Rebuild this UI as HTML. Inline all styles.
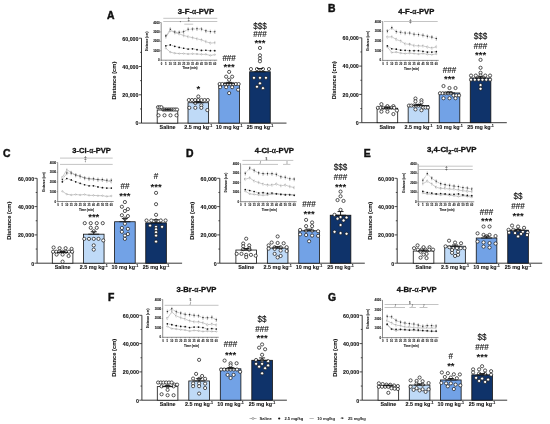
<!DOCTYPE html>
<html><head><meta charset="utf-8"><style>
html,body{margin:0;padding:0;background:#fff;}
svg{display:block;will-change:transform;}
text{font-family:"Liberation Sans", sans-serif;fill:#111;}
.s{stroke:#111;stroke-width:0.08;}
.h{stroke:#111;stroke-width:0.14;}
.T{stroke:#111;stroke-width:0.3;}
.L{stroke:#111;stroke-width:0.45;}
.it text{fill:#222;font-weight:bold;stroke:#222;stroke-width:0.08;}
</style></head><body>
<svg width="550" height="424" viewBox="0 0 550 424">
<rect width="550" height="424" fill="#fff"/>
<text x="107.10" y="18.95" font-size="10.4" font-weight="bold" text-anchor="start" class="L">A</text>
<text class="T" x="177.80" y="14.30" font-size="7.2" font-weight="bold" textLength="36.4" lengthAdjust="spacingAndGlyphs">3-F-<tspan font-weight="normal" font-family="Liberation Serif" font-size="7.4">α</tspan>-PVP</text>
<path d="M141.50 38.20V123.10H286.50" fill="none" stroke="#222" stroke-width="0.9"/>
<path d="M138.90 123.10H141.50" stroke="#222" stroke-width="0.8"/>
<text x="138.50" y="125.40" font-size="5.3" font-weight="bold" text-anchor="end" class="s">0</text>
<path d="M140.10 108.95H141.50" stroke="#222" stroke-width="0.8"/>
<path d="M138.90 94.80H141.50" stroke="#222" stroke-width="0.8"/>
<text x="138.50" y="97.10" font-size="5.3" font-weight="bold" text-anchor="end" class="s">20,000</text>
<path d="M140.10 80.65H141.50" stroke="#222" stroke-width="0.8"/>
<path d="M138.90 66.50H141.50" stroke="#222" stroke-width="0.8"/>
<text x="138.50" y="68.80" font-size="5.3" font-weight="bold" text-anchor="end" class="s">40,000</text>
<path d="M140.10 52.35H141.50" stroke="#222" stroke-width="0.8"/>
<path d="M138.90 38.20H141.50" stroke="#222" stroke-width="0.8"/>
<text x="138.50" y="40.50" font-size="5.3" font-weight="bold" text-anchor="end" class="s">60,000</text>
<text class="s" x="113.90" y="80.60" font-size="5.8" font-weight="bold" text-anchor="middle" transform="rotate(-90 113.90 80.60)" dy="2">Distance (cm)</text>
<rect x="157.20" y="110.00" width="20.6" height="13.10" fill="#ffffff" stroke="#111" stroke-width="0.8"/>
<text x="167.50" y="129.00" font-size="5.4" font-weight="bold" text-anchor="middle" class="s">Saline</text>
<circle cx="158.00" cy="107.25" r="1.6" fill="#fff" stroke="#111" stroke-width="0.7"/>
<circle cx="159.73" cy="107.25" r="1.6" fill="#fff" stroke="#111" stroke-width="0.7"/>
<circle cx="161.45" cy="107.25" r="1.6" fill="#fff" stroke="#111" stroke-width="0.7"/>
<circle cx="163.18" cy="109.52" r="1.6" fill="#fff" stroke="#111" stroke-width="0.7"/>
<circle cx="164.91" cy="109.52" r="1.6" fill="#fff" stroke="#111" stroke-width="0.7"/>
<circle cx="166.64" cy="109.52" r="1.6" fill="#fff" stroke="#111" stroke-width="0.7"/>
<circle cx="168.36" cy="109.52" r="1.6" fill="#fff" stroke="#111" stroke-width="0.7"/>
<circle cx="170.09" cy="109.52" r="1.6" fill="#fff" stroke="#111" stroke-width="0.7"/>
<circle cx="171.82" cy="109.52" r="1.6" fill="#fff" stroke="#111" stroke-width="0.7"/>
<circle cx="173.55" cy="109.52" r="1.6" fill="#fff" stroke="#111" stroke-width="0.7"/>
<circle cx="175.27" cy="109.52" r="1.6" fill="#fff" stroke="#111" stroke-width="0.7"/>
<circle cx="177.00" cy="109.52" r="1.6" fill="#fff" stroke="#111" stroke-width="0.7"/>
<circle cx="158.50" cy="115.32" r="1.6" fill="#fff" stroke="#111" stroke-width="0.7"/>
<circle cx="164.50" cy="115.32" r="1.6" fill="#fff" stroke="#111" stroke-width="0.7"/>
<circle cx="170.50" cy="115.32" r="1.6" fill="#fff" stroke="#111" stroke-width="0.7"/>
<circle cx="176.50" cy="115.32" r="1.6" fill="#fff" stroke="#111" stroke-width="0.7"/>
<path d="M162.00 110.00H173.00M167.50 110.00V109.25M164.50 109.25H170.50" stroke="#111" stroke-width="0.9"/>
<rect x="188.02" y="102.72" width="20.6" height="20.38" fill="#bfdaf7" stroke="#111" stroke-width="0.8"/>
<text x="198.32" y="129.00" font-size="5.4" font-weight="bold" text-anchor="middle" class="s">2.5 mg kg<tspan font-size="3.6" dy="-2">-1</tspan></text>
<circle cx="198.32" cy="96.50" r="1.6" fill="#fff" stroke="#111" stroke-width="0.7"/>
<circle cx="188.82" cy="100.04" r="1.6" fill="#fff" stroke="#111" stroke-width="0.7"/>
<circle cx="191.99" cy="100.04" r="1.6" fill="#fff" stroke="#111" stroke-width="0.7"/>
<circle cx="195.15" cy="100.04" r="1.6" fill="#fff" stroke="#111" stroke-width="0.7"/>
<circle cx="198.32" cy="100.04" r="1.6" fill="#fff" stroke="#111" stroke-width="0.7"/>
<circle cx="201.49" cy="100.04" r="1.6" fill="#fff" stroke="#111" stroke-width="0.7"/>
<circle cx="204.65" cy="100.04" r="1.6" fill="#fff" stroke="#111" stroke-width="0.7"/>
<circle cx="207.82" cy="100.04" r="1.6" fill="#fff" stroke="#111" stroke-width="0.7"/>
<circle cx="195.32" cy="103.01" r="1.6" fill="#fff" stroke="#111" stroke-width="0.7"/>
<circle cx="201.32" cy="105.41" r="1.6" fill="#fff" stroke="#111" stroke-width="0.7"/>
<circle cx="189.32" cy="107.82" r="1.6" fill="#fff" stroke="#111" stroke-width="0.7"/>
<circle cx="195.32" cy="107.82" r="1.6" fill="#fff" stroke="#111" stroke-width="0.7"/>
<circle cx="201.32" cy="107.82" r="1.6" fill="#fff" stroke="#111" stroke-width="0.7"/>
<circle cx="207.32" cy="110.08" r="1.6" fill="#fff" stroke="#111" stroke-width="0.7"/>
<path d="M192.82 102.72H203.82M198.32 102.72V101.60M195.32 101.60H201.32" stroke="#111" stroke-width="0.9"/>
<text x="198.32" y="91.90" font-size="9.5" font-weight="bold" text-anchor="middle" >*</text>
<rect x="218.84" y="83.62" width="20.6" height="39.48" fill="#72a2e6" stroke="#111" stroke-width="0.8"/>
<text x="229.14" y="129.00" font-size="5.4" font-weight="bold" text-anchor="middle" class="s">10 mg kg<tspan font-size="3.6" dy="-2">-1</tspan></text>
<circle cx="229.14" cy="71.88" r="1.6" fill="#fff" stroke="#111" stroke-width="0.7"/>
<circle cx="226.14" cy="76.69" r="1.6" fill="#fff" stroke="#111" stroke-width="0.7"/>
<circle cx="232.14" cy="76.69" r="1.6" fill="#fff" stroke="#111" stroke-width="0.7"/>
<circle cx="229.14" cy="79.80" r="1.6" fill="#fff" stroke="#111" stroke-width="0.7"/>
<circle cx="219.64" cy="84.05" r="1.6" fill="#fff" stroke="#111" stroke-width="0.7"/>
<circle cx="222.35" cy="84.05" r="1.6" fill="#fff" stroke="#111" stroke-width="0.7"/>
<circle cx="225.07" cy="84.05" r="1.6" fill="#fff" stroke="#111" stroke-width="0.7"/>
<circle cx="227.78" cy="84.05" r="1.6" fill="#fff" stroke="#111" stroke-width="0.7"/>
<circle cx="230.50" cy="84.05" r="1.6" fill="#fff" stroke="#111" stroke-width="0.7"/>
<circle cx="233.21" cy="84.05" r="1.6" fill="#fff" stroke="#111" stroke-width="0.7"/>
<circle cx="235.93" cy="84.05" r="1.6" fill="#fff" stroke="#111" stroke-width="0.7"/>
<circle cx="238.64" cy="84.05" r="1.6" fill="#fff" stroke="#111" stroke-width="0.7"/>
<circle cx="220.14" cy="87.16" r="1.6" fill="#fff" stroke="#111" stroke-width="0.7"/>
<circle cx="226.14" cy="87.16" r="1.6" fill="#fff" stroke="#111" stroke-width="0.7"/>
<circle cx="232.14" cy="87.16" r="1.6" fill="#fff" stroke="#111" stroke-width="0.7"/>
<circle cx="238.14" cy="89.71" r="1.6" fill="#fff" stroke="#111" stroke-width="0.7"/>
<circle cx="229.14" cy="93.10" r="1.6" fill="#fff" stroke="#111" stroke-width="0.7"/>
<path d="M223.64 83.62H234.64M229.14 83.62V82.39M226.14 82.39H232.14" stroke="#111" stroke-width="0.9"/>
<text class="h" x="222.39" y="60.80" font-size="9.6" font-weight="normal" textLength="13.50" lengthAdjust="spacingAndGlyphs">###</text>
<text x="229.14" y="69.60" font-size="9.5" font-weight="bold" text-anchor="middle" >***</text>
<rect x="249.66" y="71.74" width="20.6" height="51.36" fill="#0f336a" stroke="#111" stroke-width="0.8"/>
<text x="259.96" y="129.00" font-size="5.4" font-weight="bold" text-anchor="middle" class="s">25 mg kg<tspan font-size="3.6" dy="-2">-1</tspan></text>
<circle cx="259.96" cy="47.96" r="1.6" fill="#fff" stroke="#111" stroke-width="0.7"/>
<circle cx="259.96" cy="55.32" r="1.6" fill="#fff" stroke="#111" stroke-width="0.7"/>
<circle cx="259.96" cy="58.43" r="1.6" fill="#fff" stroke="#111" stroke-width="0.7"/>
<circle cx="259.96" cy="61.26" r="1.6" fill="#fff" stroke="#111" stroke-width="0.7"/>
<circle cx="250.96" cy="69.05" r="1.6" fill="#fff" stroke="#111" stroke-width="0.7"/>
<circle cx="256.96" cy="69.05" r="1.6" fill="#fff" stroke="#111" stroke-width="0.7"/>
<circle cx="262.96" cy="69.05" r="1.6" fill="#fff" stroke="#111" stroke-width="0.7"/>
<circle cx="268.96" cy="69.05" r="1.6" fill="#fff" stroke="#111" stroke-width="0.7"/>
<circle cx="253.96" cy="77.82" r="1.6" fill="#fff" stroke="#111" stroke-width="0.7"/>
<circle cx="259.96" cy="77.82" r="1.6" fill="#fff" stroke="#111" stroke-width="0.7"/>
<circle cx="265.96" cy="77.82" r="1.6" fill="#fff" stroke="#111" stroke-width="0.7"/>
<circle cx="259.96" cy="83.34" r="1.6" fill="#fff" stroke="#111" stroke-width="0.7"/>
<circle cx="256.96" cy="86.73" r="1.6" fill="#fff" stroke="#111" stroke-width="0.7"/>
<circle cx="262.96" cy="88.15" r="1.6" fill="#fff" stroke="#111" stroke-width="0.7"/>
<path d="M254.46 71.74H265.46M259.96 71.74V68.52M256.96 68.52H262.96" stroke="#111" stroke-width="0.9"/>
<text class="h" x="253.21" y="28.60" font-size="9.4" font-weight="normal" textLength="13.50" lengthAdjust="spacingAndGlyphs">$$$</text>
<text class="h" x="253.21" y="37.20" font-size="9.6" font-weight="normal" textLength="13.50" lengthAdjust="spacingAndGlyphs">###</text>
<text x="259.96" y="46.20" font-size="9.5" font-weight="bold" text-anchor="middle" >***</text>
<path d="M161.20 22.50V60.20H217.20" fill="none" stroke="#333" stroke-width="0.55"/>
<path d="M160.00 60.20H161.20M160.00 50.78H161.20M160.00 41.35H161.20M160.00 31.93H161.20M160.00 22.50H161.20M161.40 60.20V61.20M165.85 60.20V61.20M170.30 60.20V61.20M174.75 60.20V61.20M179.20 60.20V61.20M183.65 60.20V61.20M188.10 60.20V61.20M192.55 60.20V61.20M197.00 60.20V61.20M201.45 60.20V61.20M205.90 60.20V61.20M210.35 60.20V61.20M214.80 60.20V61.20" stroke="#333" stroke-width="0.4"/>
<g class="it">
<text x="159.70" y="61.20" font-size="2.9" text-anchor="end">0</text>
<text x="159.70" y="51.78" font-size="2.9" text-anchor="end">1000</text>
<text x="159.70" y="42.35" font-size="2.9" text-anchor="end">2000</text>
<text x="159.70" y="32.92" font-size="2.9" text-anchor="end">3000</text>
<text x="159.70" y="23.50" font-size="2.9" text-anchor="end">4000</text>
<text x="161.40" y="64.80" font-size="2.7" text-anchor="middle">0</text>
<text x="165.85" y="64.80" font-size="2.7" text-anchor="middle">5</text>
<text x="170.30" y="64.80" font-size="2.7" text-anchor="middle">10</text>
<text x="174.75" y="64.80" font-size="2.7" text-anchor="middle">15</text>
<text x="179.20" y="64.80" font-size="2.7" text-anchor="middle">20</text>
<text x="183.65" y="64.80" font-size="2.7" text-anchor="middle">25</text>
<text x="188.10" y="64.80" font-size="2.7" text-anchor="middle">30</text>
<text x="192.55" y="64.80" font-size="2.7" text-anchor="middle">35</text>
<text x="197.00" y="64.80" font-size="2.7" text-anchor="middle">40</text>
<text x="201.45" y="64.80" font-size="2.7" text-anchor="middle">45</text>
<text x="205.90" y="64.80" font-size="2.7" text-anchor="middle">50</text>
<text x="210.35" y="64.80" font-size="2.7" text-anchor="middle">55</text>
<text x="214.80" y="64.80" font-size="2.7" text-anchor="middle">60</text>
<text x="190.00" y="69.40" font-size="3" text-anchor="middle">Time (min)</text>
<text x="147.00" y="41.35" font-size="3" text-anchor="middle" transform="rotate(-90 147.00 41.35)" dy="1">Distance (cm)</text>
</g>
<path d="M163.30 18.30H217.30" stroke="#888" stroke-width="0.5"/>
<path d="M163.30 21.50H217.30" stroke="#888" stroke-width="0.5"/>
<path d="M184.30 24.20H193.20" stroke="#888" stroke-width="0.5"/>
<text x="188.70" y="20.60" font-size="4.5" font-weight="normal" text-anchor="middle" fill="#555">‡</text>
<text x="180.40" y="24.20" font-size="3" font-weight="normal" text-anchor="middle" fill="#555">*</text>
<path d="M165.85 34.43V37.64M165.25 34.43H166.45M165.25 37.64H166.45M170.30 27.78V30.98M169.70 27.78H170.90M169.70 30.98H170.90M174.75 30.55V33.75M174.15 30.55H175.35M174.15 33.75H175.35M179.20 30.89V34.09M178.60 30.89H179.80M178.60 34.09H179.80M183.65 30.23V33.43M183.05 30.23H184.25M183.05 33.43H184.25M188.10 27.78V30.98M187.50 27.78H188.70M187.50 30.98H188.70M192.55 27.56V30.77M191.95 27.56H193.15M191.95 30.77H193.15M197.00 27.23V30.44M196.40 27.23H197.60M196.40 30.44H197.60M201.45 27.56V30.77M200.85 27.56H202.05M200.85 30.77H202.05M205.90 29.45V32.65M205.30 29.45H206.50M205.30 32.65H206.50M210.35 30.00V33.21M209.75 30.00H210.95M209.75 33.21H210.95M214.80 30.23V33.43M214.20 30.23H215.40M214.20 33.43H215.40" stroke="#666" stroke-width="0.3" fill="none"/>
<path d="M165.85 35.79V38.43M165.35 35.79H166.35M165.35 38.43H166.35M170.30 29.19V31.83M169.80 29.19H170.80M169.80 31.83H170.80M174.75 31.39V34.03M174.25 31.39H175.25M174.25 34.03H175.25M179.20 32.49V35.13M178.70 32.49H179.70M178.70 35.13H179.70M183.65 34.19V36.83M183.15 34.19H184.15M183.15 36.83H184.15M188.10 35.32V37.96M187.60 35.32H188.60M187.60 37.96H188.60M192.55 36.38V39.02M192.05 36.38H193.05M192.05 39.02H193.05M197.00 37.49V40.12M196.50 37.49H197.50M196.50 40.12H197.50M201.45 38.62V41.26M200.95 38.62H201.95M200.95 41.26H201.95M205.90 40.27V42.91M205.40 40.27H206.40M205.40 42.91H206.40M210.35 41.92V44.55M209.85 41.92H210.85M209.85 44.55H210.85M214.80 41.35V43.99M214.30 41.35H215.30M214.30 43.99H215.30" stroke="#aaa" stroke-width="0.3" fill="none"/>
<polyline points="165.85,48.23 170.30,52.11 174.75,53.22 179.20,53.56 183.65,53.56 188.10,54.00 192.55,53.77 197.00,54.00 201.45,54.33 205.90,54.33 210.35,55.44 214.80,54.66" fill="none" stroke="#999" stroke-width="0.5"/>
<polyline points="165.85,37.11 170.30,30.51 174.75,32.71 179.20,33.81 183.65,35.51 188.10,36.64 192.55,37.70 197.00,38.81 201.45,39.94 205.90,41.59 210.35,43.23 214.80,42.67" fill="none" stroke="#aaa" stroke-width="0.6"/>
<polyline points="165.85,45.78 170.30,44.90 174.75,46.35 179.20,47.46 183.65,48.23 188.10,49.12 192.55,48.79 197.00,49.67 201.45,50.45 205.90,50.23 210.35,50.67 214.80,50.67" fill="none" stroke="#444" stroke-width="0.45" stroke-dasharray="0.8 0.8"/>
<polyline points="165.85,36.03 170.30,29.38 174.75,32.15 179.20,32.49 183.65,31.83 188.10,29.38 192.55,29.16 197.00,28.83 201.45,29.16 205.90,31.05 210.35,31.60 214.80,31.83" fill="none" stroke="#444" stroke-width="0.45" stroke-dasharray="0.8 0.8"/>
<circle cx="165.85" cy="48.23" r="0.7" fill="#fff" stroke="#777" stroke-width="0.35"/>
<circle cx="170.30" cy="52.11" r="0.7" fill="#fff" stroke="#777" stroke-width="0.35"/>
<circle cx="174.75" cy="53.22" r="0.7" fill="#fff" stroke="#777" stroke-width="0.35"/>
<circle cx="179.20" cy="53.56" r="0.7" fill="#fff" stroke="#777" stroke-width="0.35"/>
<circle cx="183.65" cy="53.56" r="0.7" fill="#fff" stroke="#777" stroke-width="0.35"/>
<circle cx="188.10" cy="54.00" r="0.7" fill="#fff" stroke="#777" stroke-width="0.35"/>
<circle cx="192.55" cy="53.77" r="0.7" fill="#fff" stroke="#777" stroke-width="0.35"/>
<circle cx="197.00" cy="54.00" r="0.7" fill="#fff" stroke="#777" stroke-width="0.35"/>
<circle cx="201.45" cy="54.33" r="0.7" fill="#fff" stroke="#777" stroke-width="0.35"/>
<circle cx="205.90" cy="54.33" r="0.7" fill="#fff" stroke="#777" stroke-width="0.35"/>
<circle cx="210.35" cy="55.44" r="0.7" fill="#fff" stroke="#777" stroke-width="0.35"/>
<circle cx="214.80" cy="54.66" r="0.7" fill="#fff" stroke="#777" stroke-width="0.35"/>
<rect x="165.25" y="36.51" width="1.2" height="1.2" fill="#fff" stroke="#aaa" stroke-width="0.3"/>
<rect x="169.70" y="29.91" width="1.2" height="1.2" fill="#fff" stroke="#aaa" stroke-width="0.3"/>
<rect x="174.15" y="32.11" width="1.2" height="1.2" fill="#fff" stroke="#aaa" stroke-width="0.3"/>
<rect x="178.60" y="33.21" width="1.2" height="1.2" fill="#fff" stroke="#aaa" stroke-width="0.3"/>
<rect x="183.05" y="34.91" width="1.2" height="1.2" fill="#fff" stroke="#aaa" stroke-width="0.3"/>
<rect x="187.50" y="36.04" width="1.2" height="1.2" fill="#fff" stroke="#aaa" stroke-width="0.3"/>
<rect x="191.95" y="37.10" width="1.2" height="1.2" fill="#fff" stroke="#aaa" stroke-width="0.3"/>
<rect x="196.40" y="38.21" width="1.2" height="1.2" fill="#fff" stroke="#aaa" stroke-width="0.3"/>
<rect x="200.85" y="39.34" width="1.2" height="1.2" fill="#fff" stroke="#aaa" stroke-width="0.3"/>
<rect x="205.30" y="40.99" width="1.2" height="1.2" fill="#fff" stroke="#aaa" stroke-width="0.3"/>
<rect x="209.75" y="42.63" width="1.2" height="1.2" fill="#fff" stroke="#aaa" stroke-width="0.3"/>
<rect x="214.20" y="42.07" width="1.2" height="1.2" fill="#fff" stroke="#aaa" stroke-width="0.3"/>
<circle cx="165.85" cy="45.78" r="0.85" fill="#111"/>
<circle cx="170.30" cy="44.90" r="0.85" fill="#111"/>
<circle cx="174.75" cy="46.35" r="0.85" fill="#111"/>
<circle cx="179.20" cy="47.46" r="0.85" fill="#111"/>
<circle cx="183.65" cy="48.23" r="0.85" fill="#111"/>
<circle cx="188.10" cy="49.12" r="0.85" fill="#111"/>
<circle cx="192.55" cy="48.79" r="0.85" fill="#111"/>
<circle cx="197.00" cy="49.67" r="0.85" fill="#111"/>
<circle cx="201.45" cy="50.45" r="0.85" fill="#111"/>
<circle cx="205.90" cy="50.23" r="0.85" fill="#111"/>
<circle cx="210.35" cy="50.67" r="0.85" fill="#111"/>
<circle cx="214.80" cy="50.67" r="0.85" fill="#111"/>
<path d="M164.95 35.33H166.75L165.85 36.93Z" fill="#222"/>
<path d="M169.40 28.68H171.20L170.30 30.28Z" fill="#222"/>
<path d="M173.85 31.45H175.65L174.75 33.05Z" fill="#222"/>
<path d="M178.30 31.79H180.10L179.20 33.39Z" fill="#222"/>
<path d="M182.75 31.13H184.55L183.65 32.73Z" fill="#222"/>
<path d="M187.20 28.68H189.00L188.10 30.28Z" fill="#222"/>
<path d="M191.65 28.46H193.45L192.55 30.06Z" fill="#222"/>
<path d="M196.10 28.13H197.90L197.00 29.73Z" fill="#222"/>
<path d="M200.55 28.46H202.35L201.45 30.06Z" fill="#222"/>
<path d="M205.00 30.35H206.80L205.90 31.95Z" fill="#222"/>
<path d="M209.45 30.90H211.25L210.35 32.50Z" fill="#222"/>
<path d="M213.90 31.13H215.70L214.80 32.73Z" fill="#222"/>
<text x="328.10" y="12.10" font-size="10.4" font-weight="bold" text-anchor="start" class="L">B</text>
<text class="T" x="398.30" y="14.30" font-size="7.2" font-weight="bold" textLength="36.0" lengthAdjust="spacingAndGlyphs">4-F-<tspan font-weight="normal" font-family="Liberation Serif" font-size="7.4">α</tspan>-PVP</text>
<path d="M361.80 37.80V122.70H506.80" fill="none" stroke="#222" stroke-width="0.9"/>
<path d="M359.20 122.70H361.80" stroke="#222" stroke-width="0.8"/>
<text x="358.80" y="125.00" font-size="5.3" font-weight="bold" text-anchor="end" class="s">0</text>
<path d="M360.40 108.55H361.80" stroke="#222" stroke-width="0.8"/>
<path d="M359.20 94.40H361.80" stroke="#222" stroke-width="0.8"/>
<text x="358.80" y="96.70" font-size="5.3" font-weight="bold" text-anchor="end" class="s">20,000</text>
<path d="M360.40 80.25H361.80" stroke="#222" stroke-width="0.8"/>
<path d="M359.20 66.10H361.80" stroke="#222" stroke-width="0.8"/>
<text x="358.80" y="68.40" font-size="5.3" font-weight="bold" text-anchor="end" class="s">40,000</text>
<path d="M360.40 51.95H361.80" stroke="#222" stroke-width="0.8"/>
<path d="M359.20 37.80H361.80" stroke="#222" stroke-width="0.8"/>
<text x="358.80" y="40.10" font-size="5.3" font-weight="bold" text-anchor="end" class="s">60,000</text>
<text class="s" x="334.20" y="80.20" font-size="5.8" font-weight="bold" text-anchor="middle" transform="rotate(-90 334.20 80.20)" dy="2">Distance (cm)</text>
<rect x="377.10" y="108.27" width="20.6" height="14.43" fill="#ffffff" stroke="#111" stroke-width="0.8"/>
<text x="387.40" y="128.60" font-size="5.4" font-weight="bold" text-anchor="middle" class="s">Saline</text>
<circle cx="381.40" cy="104.16" r="1.6" fill="#fff" stroke="#111" stroke-width="0.7"/>
<circle cx="387.40" cy="106.14" r="1.6" fill="#fff" stroke="#111" stroke-width="0.7"/>
<circle cx="393.40" cy="106.14" r="1.6" fill="#fff" stroke="#111" stroke-width="0.7"/>
<circle cx="377.90" cy="107.84" r="1.6" fill="#fff" stroke="#111" stroke-width="0.7"/>
<circle cx="380.61" cy="107.84" r="1.6" fill="#fff" stroke="#111" stroke-width="0.7"/>
<circle cx="383.33" cy="107.84" r="1.6" fill="#fff" stroke="#111" stroke-width="0.7"/>
<circle cx="386.04" cy="107.84" r="1.6" fill="#fff" stroke="#111" stroke-width="0.7"/>
<circle cx="388.76" cy="107.84" r="1.6" fill="#fff" stroke="#111" stroke-width="0.7"/>
<circle cx="391.47" cy="107.84" r="1.6" fill="#fff" stroke="#111" stroke-width="0.7"/>
<circle cx="394.19" cy="107.84" r="1.6" fill="#fff" stroke="#111" stroke-width="0.7"/>
<circle cx="396.90" cy="110.53" r="1.6" fill="#fff" stroke="#111" stroke-width="0.7"/>
<circle cx="381.40" cy="111.66" r="1.6" fill="#fff" stroke="#111" stroke-width="0.7"/>
<circle cx="387.40" cy="111.66" r="1.6" fill="#fff" stroke="#111" stroke-width="0.7"/>
<circle cx="393.40" cy="114.07" r="1.6" fill="#fff" stroke="#111" stroke-width="0.7"/>
<path d="M381.90 108.27H392.90M387.40 108.27V107.57M384.40 107.57H390.40" stroke="#111" stroke-width="0.9"/>
<rect x="408.15" y="105.44" width="20.6" height="17.26" fill="#bfdaf7" stroke="#111" stroke-width="0.8"/>
<text x="418.45" y="128.60" font-size="5.4" font-weight="bold" text-anchor="middle" class="s">2.5 mg kg<tspan font-size="3.6" dy="-2">-1</tspan></text>
<circle cx="415.45" cy="98.50" r="1.6" fill="#fff" stroke="#111" stroke-width="0.7"/>
<circle cx="421.45" cy="100.20" r="1.6" fill="#fff" stroke="#111" stroke-width="0.7"/>
<circle cx="415.45" cy="101.33" r="1.6" fill="#fff" stroke="#111" stroke-width="0.7"/>
<circle cx="421.45" cy="102.47" r="1.6" fill="#fff" stroke="#111" stroke-width="0.7"/>
<circle cx="408.95" cy="105.58" r="1.6" fill="#fff" stroke="#111" stroke-width="0.7"/>
<circle cx="411.33" cy="105.58" r="1.6" fill="#fff" stroke="#111" stroke-width="0.7"/>
<circle cx="413.70" cy="105.58" r="1.6" fill="#fff" stroke="#111" stroke-width="0.7"/>
<circle cx="416.08" cy="105.58" r="1.6" fill="#fff" stroke="#111" stroke-width="0.7"/>
<circle cx="418.45" cy="105.58" r="1.6" fill="#fff" stroke="#111" stroke-width="0.7"/>
<circle cx="420.83" cy="105.58" r="1.6" fill="#fff" stroke="#111" stroke-width="0.7"/>
<circle cx="423.20" cy="107.56" r="1.6" fill="#fff" stroke="#111" stroke-width="0.7"/>
<circle cx="425.58" cy="107.56" r="1.6" fill="#fff" stroke="#111" stroke-width="0.7"/>
<circle cx="427.95" cy="107.56" r="1.6" fill="#fff" stroke="#111" stroke-width="0.7"/>
<circle cx="415.45" cy="109.40" r="1.6" fill="#fff" stroke="#111" stroke-width="0.7"/>
<circle cx="421.45" cy="110.25" r="1.6" fill="#fff" stroke="#111" stroke-width="0.7"/>
<path d="M412.95 105.44H423.95M418.45 105.44V104.58M415.45 104.58H421.45" stroke="#111" stroke-width="0.9"/>
<rect x="439.20" y="92.98" width="20.6" height="29.71" fill="#72a2e6" stroke="#111" stroke-width="0.8"/>
<text x="449.50" y="128.60" font-size="5.4" font-weight="bold" text-anchor="middle" class="s">10 mg kg<tspan font-size="3.6" dy="-2">-1</tspan></text>
<circle cx="443.50" cy="86.05" r="1.6" fill="#fff" stroke="#111" stroke-width="0.7"/>
<circle cx="449.50" cy="88.03" r="1.6" fill="#fff" stroke="#111" stroke-width="0.7"/>
<circle cx="455.50" cy="88.03" r="1.6" fill="#fff" stroke="#111" stroke-width="0.7"/>
<circle cx="440.00" cy="93.27" r="1.6" fill="#fff" stroke="#111" stroke-width="0.7"/>
<circle cx="442.71" cy="93.27" r="1.6" fill="#fff" stroke="#111" stroke-width="0.7"/>
<circle cx="445.43" cy="93.27" r="1.6" fill="#fff" stroke="#111" stroke-width="0.7"/>
<circle cx="448.14" cy="93.27" r="1.6" fill="#fff" stroke="#111" stroke-width="0.7"/>
<circle cx="450.86" cy="93.27" r="1.6" fill="#fff" stroke="#111" stroke-width="0.7"/>
<circle cx="453.57" cy="95.39" r="1.6" fill="#fff" stroke="#111" stroke-width="0.7"/>
<circle cx="456.29" cy="95.39" r="1.6" fill="#fff" stroke="#111" stroke-width="0.7"/>
<circle cx="459.00" cy="95.39" r="1.6" fill="#fff" stroke="#111" stroke-width="0.7"/>
<circle cx="443.50" cy="98.22" r="1.6" fill="#fff" stroke="#111" stroke-width="0.7"/>
<circle cx="449.50" cy="98.22" r="1.6" fill="#fff" stroke="#111" stroke-width="0.7"/>
<circle cx="455.50" cy="98.22" r="1.6" fill="#fff" stroke="#111" stroke-width="0.7"/>
<path d="M444.00 92.98H455.00M449.50 92.98V91.95M446.50 91.95H452.50" stroke="#111" stroke-width="0.9"/>
<text class="h" x="442.75" y="72.80" font-size="9.6" font-weight="normal" textLength="13.50" lengthAdjust="spacingAndGlyphs">###</text>
<text x="449.50" y="82.40" font-size="9.5" font-weight="bold" text-anchor="middle" >***</text>
<rect x="470.25" y="77.99" width="20.6" height="44.71" fill="#0f336a" stroke="#111" stroke-width="0.8"/>
<text x="480.55" y="128.60" font-size="5.4" font-weight="bold" text-anchor="middle" class="s">25 mg kg<tspan font-size="3.6" dy="-2">-1</tspan></text>
<circle cx="480.55" cy="59.87" r="1.6" fill="#fff" stroke="#111" stroke-width="0.7"/>
<circle cx="480.55" cy="67.80" r="1.6" fill="#fff" stroke="#111" stroke-width="0.7"/>
<circle cx="480.55" cy="72.75" r="1.6" fill="#fff" stroke="#111" stroke-width="0.7"/>
<circle cx="471.05" cy="75.58" r="1.6" fill="#fff" stroke="#111" stroke-width="0.7"/>
<circle cx="475.80" cy="75.58" r="1.6" fill="#fff" stroke="#111" stroke-width="0.7"/>
<circle cx="480.55" cy="75.58" r="1.6" fill="#fff" stroke="#111" stroke-width="0.7"/>
<circle cx="485.30" cy="75.58" r="1.6" fill="#fff" stroke="#111" stroke-width="0.7"/>
<circle cx="490.05" cy="75.58" r="1.6" fill="#fff" stroke="#111" stroke-width="0.7"/>
<circle cx="471.05" cy="79.68" r="1.6" fill="#fff" stroke="#111" stroke-width="0.7"/>
<circle cx="474.85" cy="79.68" r="1.6" fill="#fff" stroke="#111" stroke-width="0.7"/>
<circle cx="478.65" cy="79.68" r="1.6" fill="#fff" stroke="#111" stroke-width="0.7"/>
<circle cx="482.45" cy="79.68" r="1.6" fill="#fff" stroke="#111" stroke-width="0.7"/>
<circle cx="486.25" cy="79.68" r="1.6" fill="#fff" stroke="#111" stroke-width="0.7"/>
<circle cx="490.05" cy="79.68" r="1.6" fill="#fff" stroke="#111" stroke-width="0.7"/>
<circle cx="480.55" cy="85.06" r="1.6" fill="#fff" stroke="#111" stroke-width="0.7"/>
<circle cx="480.55" cy="88.74" r="1.6" fill="#fff" stroke="#111" stroke-width="0.7"/>
<path d="M475.05 77.99H486.05M480.55 77.99V76.34M477.55 76.34H483.55" stroke="#111" stroke-width="0.9"/>
<text class="h" x="473.80" y="38.90" font-size="9.4" font-weight="normal" textLength="13.50" lengthAdjust="spacingAndGlyphs">$$$</text>
<text class="h" x="473.80" y="49.30" font-size="9.6" font-weight="normal" textLength="13.50" lengthAdjust="spacingAndGlyphs">###</text>
<text x="480.55" y="58.40" font-size="9.5" font-weight="bold" text-anchor="middle" >***</text>
<path d="M382.70 21.50V60.40H438.70" fill="none" stroke="#333" stroke-width="0.55"/>
<path d="M381.50 60.40H382.70M381.50 50.67H382.70M381.50 40.95H382.70M381.50 31.23H382.70M381.50 21.50H382.70M382.90 60.40V61.40M387.35 60.40V61.40M391.80 60.40V61.40M396.25 60.40V61.40M400.70 60.40V61.40M405.15 60.40V61.40M409.60 60.40V61.40M414.05 60.40V61.40M418.50 60.40V61.40M422.95 60.40V61.40M427.40 60.40V61.40M431.85 60.40V61.40M436.30 60.40V61.40" stroke="#333" stroke-width="0.4"/>
<g class="it">
<text x="381.20" y="61.40" font-size="2.9" text-anchor="end">0</text>
<text x="381.20" y="51.67" font-size="2.9" text-anchor="end">1000</text>
<text x="381.20" y="41.95" font-size="2.9" text-anchor="end">2000</text>
<text x="381.20" y="32.23" font-size="2.9" text-anchor="end">3000</text>
<text x="381.20" y="22.50" font-size="2.9" text-anchor="end">4000</text>
<text x="382.90" y="65.00" font-size="2.7" text-anchor="middle">0</text>
<text x="387.35" y="65.00" font-size="2.7" text-anchor="middle">5</text>
<text x="391.80" y="65.00" font-size="2.7" text-anchor="middle">10</text>
<text x="396.25" y="65.00" font-size="2.7" text-anchor="middle">15</text>
<text x="400.70" y="65.00" font-size="2.7" text-anchor="middle">20</text>
<text x="405.15" y="65.00" font-size="2.7" text-anchor="middle">25</text>
<text x="409.60" y="65.00" font-size="2.7" text-anchor="middle">30</text>
<text x="414.05" y="65.00" font-size="2.7" text-anchor="middle">35</text>
<text x="418.50" y="65.00" font-size="2.7" text-anchor="middle">40</text>
<text x="422.95" y="65.00" font-size="2.7" text-anchor="middle">45</text>
<text x="427.40" y="65.00" font-size="2.7" text-anchor="middle">50</text>
<text x="431.85" y="65.00" font-size="2.7" text-anchor="middle">55</text>
<text x="436.30" y="65.00" font-size="2.7" text-anchor="middle">60</text>
<text x="411.50" y="69.60" font-size="3" text-anchor="middle">Time (min)</text>
<text x="368.50" y="40.95" font-size="3" text-anchor="middle" transform="rotate(-90 368.50 40.95)" dy="1">Distance (cm)</text>
</g>
<path d="M383.90 21.50H437.70" stroke="#888" stroke-width="0.5"/>
<text x="410.40" y="22.80" font-size="5" font-weight="normal" text-anchor="middle" fill="#555">‡</text>
<path d="M387.35 29.61V32.92M386.75 29.61H387.95M386.75 32.92H387.95M391.80 26.11V29.42M391.20 26.11H392.40M391.20 29.42H392.40M396.25 30.05V33.35M395.65 30.05H396.85M395.65 33.35H396.85M400.70 30.78V34.08M400.10 30.78H401.30M400.10 34.08H401.30M405.15 31.51V34.81M404.55 31.51H405.75M404.55 34.81H405.75M409.60 31.51V34.81M409.00 31.51H410.20M409.00 34.81H410.20M414.05 32.67V35.98M413.45 32.67H414.65M413.45 35.98H414.65M418.50 32.97V36.27M417.90 32.97H419.10M417.90 36.27H419.10M422.95 33.69V36.99M422.35 33.69H423.55M422.35 36.99H423.55M427.40 34.85V38.16M426.80 34.85H428.00M426.80 38.16H428.00M431.85 35.58V38.89M431.25 35.58H432.45M431.25 38.89H432.45M436.30 37.04V40.35M435.70 37.04H436.90M435.70 40.35H436.90" stroke="#666" stroke-width="0.3" fill="none"/>
<path d="M387.35 35.73V38.45M386.85 35.73H387.85M386.85 38.45H387.85M391.80 35.44V38.16M391.30 35.44H392.30M391.30 38.16H392.30M396.25 38.06V40.78M395.75 38.06H396.75M395.75 40.78H396.75M400.70 39.81V42.54M400.20 39.81H401.20M400.20 42.54H401.20M405.15 42.43V45.15M404.65 42.43H405.65M404.65 45.15H405.65M409.60 43.01V45.73M409.10 43.01H410.10M409.10 45.73H410.10M414.05 44.18V46.90M413.55 44.18H414.55M413.55 46.90H414.55M418.50 44.62V47.34M418.00 44.62H419.00M418.00 47.34H419.00M422.95 44.62V47.34M422.45 44.62H423.45M422.45 47.34H423.45M427.40 45.64V48.36M426.90 45.64H427.90M426.90 48.36H427.90M431.85 46.80V49.53M431.35 46.80H432.35M431.35 49.53H432.35M436.30 45.35V48.07M435.80 45.35H436.80M435.80 48.07H436.80" stroke="#aaa" stroke-width="0.3" fill="none"/>
<polyline points="387.35,47.00 391.80,52.53 396.25,52.09 400.70,53.12 405.15,53.55 409.60,53.12 414.05,53.55 418.50,53.99 422.95,53.55 427.40,54.28 431.85,54.57 436.30,53.99" fill="none" stroke="#999" stroke-width="0.5"/>
<polyline points="387.35,37.09 391.80,36.80 396.25,39.42 400.70,41.17 405.15,43.79 409.60,44.37 414.05,45.54 418.50,45.98 422.95,45.98 427.40,47.00 431.85,48.17 436.30,46.71" fill="none" stroke="#aaa" stroke-width="0.6"/>
<polyline points="387.35,45.83 391.80,48.75 396.25,49.19 400.70,50.21 405.15,50.34 409.60,50.64 414.05,50.64 418.50,50.64 422.95,51.37 427.40,52.09 431.85,52.09 436.30,51.66" fill="none" stroke="#444" stroke-width="0.45" stroke-dasharray="0.8 0.8"/>
<polyline points="387.35,31.26 391.80,27.76 396.25,31.70 400.70,32.43 405.15,33.16 409.60,33.16 414.05,34.33 418.50,34.62 422.95,35.34 427.40,36.51 431.85,37.24 436.30,38.69" fill="none" stroke="#444" stroke-width="0.45" stroke-dasharray="0.8 0.8"/>
<circle cx="387.35" cy="47.00" r="0.7" fill="#fff" stroke="#777" stroke-width="0.35"/>
<circle cx="391.80" cy="52.53" r="0.7" fill="#fff" stroke="#777" stroke-width="0.35"/>
<circle cx="396.25" cy="52.09" r="0.7" fill="#fff" stroke="#777" stroke-width="0.35"/>
<circle cx="400.70" cy="53.12" r="0.7" fill="#fff" stroke="#777" stroke-width="0.35"/>
<circle cx="405.15" cy="53.55" r="0.7" fill="#fff" stroke="#777" stroke-width="0.35"/>
<circle cx="409.60" cy="53.12" r="0.7" fill="#fff" stroke="#777" stroke-width="0.35"/>
<circle cx="414.05" cy="53.55" r="0.7" fill="#fff" stroke="#777" stroke-width="0.35"/>
<circle cx="418.50" cy="53.99" r="0.7" fill="#fff" stroke="#777" stroke-width="0.35"/>
<circle cx="422.95" cy="53.55" r="0.7" fill="#fff" stroke="#777" stroke-width="0.35"/>
<circle cx="427.40" cy="54.28" r="0.7" fill="#fff" stroke="#777" stroke-width="0.35"/>
<circle cx="431.85" cy="54.57" r="0.7" fill="#fff" stroke="#777" stroke-width="0.35"/>
<circle cx="436.30" cy="53.99" r="0.7" fill="#fff" stroke="#777" stroke-width="0.35"/>
<rect x="386.75" y="36.49" width="1.2" height="1.2" fill="#fff" stroke="#aaa" stroke-width="0.3"/>
<rect x="391.20" y="36.20" width="1.2" height="1.2" fill="#fff" stroke="#aaa" stroke-width="0.3"/>
<rect x="395.65" y="38.82" width="1.2" height="1.2" fill="#fff" stroke="#aaa" stroke-width="0.3"/>
<rect x="400.10" y="40.57" width="1.2" height="1.2" fill="#fff" stroke="#aaa" stroke-width="0.3"/>
<rect x="404.55" y="43.19" width="1.2" height="1.2" fill="#fff" stroke="#aaa" stroke-width="0.3"/>
<rect x="409.00" y="43.77" width="1.2" height="1.2" fill="#fff" stroke="#aaa" stroke-width="0.3"/>
<rect x="413.45" y="44.94" width="1.2" height="1.2" fill="#fff" stroke="#aaa" stroke-width="0.3"/>
<rect x="417.90" y="45.38" width="1.2" height="1.2" fill="#fff" stroke="#aaa" stroke-width="0.3"/>
<rect x="422.35" y="45.38" width="1.2" height="1.2" fill="#fff" stroke="#aaa" stroke-width="0.3"/>
<rect x="426.80" y="46.40" width="1.2" height="1.2" fill="#fff" stroke="#aaa" stroke-width="0.3"/>
<rect x="431.25" y="47.57" width="1.2" height="1.2" fill="#fff" stroke="#aaa" stroke-width="0.3"/>
<rect x="435.70" y="46.11" width="1.2" height="1.2" fill="#fff" stroke="#aaa" stroke-width="0.3"/>
<circle cx="387.35" cy="45.83" r="0.85" fill="#111"/>
<circle cx="391.80" cy="48.75" r="0.85" fill="#111"/>
<circle cx="396.25" cy="49.19" r="0.85" fill="#111"/>
<circle cx="400.70" cy="50.21" r="0.85" fill="#111"/>
<circle cx="405.15" cy="50.34" r="0.85" fill="#111"/>
<circle cx="409.60" cy="50.64" r="0.85" fill="#111"/>
<circle cx="414.05" cy="50.64" r="0.85" fill="#111"/>
<circle cx="418.50" cy="50.64" r="0.85" fill="#111"/>
<circle cx="422.95" cy="51.37" r="0.85" fill="#111"/>
<circle cx="427.40" cy="52.09" r="0.85" fill="#111"/>
<circle cx="431.85" cy="52.09" r="0.85" fill="#111"/>
<circle cx="436.30" cy="51.66" r="0.85" fill="#111"/>
<path d="M386.45 30.56H388.25L387.35 32.16Z" fill="#222"/>
<path d="M390.90 27.06H392.70L391.80 28.66Z" fill="#222"/>
<path d="M395.35 31.00H397.15L396.25 32.60Z" fill="#222"/>
<path d="M399.80 31.73H401.60L400.70 33.33Z" fill="#222"/>
<path d="M404.25 32.46H406.05L405.15 34.06Z" fill="#222"/>
<path d="M408.70 32.46H410.50L409.60 34.06Z" fill="#222"/>
<path d="M413.15 33.63H414.95L414.05 35.23Z" fill="#222"/>
<path d="M417.60 33.92H419.40L418.50 35.52Z" fill="#222"/>
<path d="M422.05 34.64H423.85L422.95 36.24Z" fill="#222"/>
<path d="M426.50 35.81H428.30L427.40 37.41Z" fill="#222"/>
<path d="M430.95 36.54H432.75L431.85 38.14Z" fill="#222"/>
<path d="M435.40 37.99H437.20L436.30 39.59Z" fill="#222"/>
<text x="3.00" y="156.80" font-size="10.4" font-weight="bold" text-anchor="start" class="L">C</text>
<text class="T" x="72.35" y="153.00" font-size="7.2" font-weight="bold" textLength="38.5" lengthAdjust="spacingAndGlyphs">3-Cl-<tspan font-weight="normal" font-family="Liberation Serif" font-size="7.4">α</tspan>-PVP</text>
<path d="M37.10 178.30V263.20H182.10" fill="none" stroke="#222" stroke-width="0.9"/>
<path d="M34.50 263.20H37.10" stroke="#222" stroke-width="0.8"/>
<text x="34.10" y="265.50" font-size="5.3" font-weight="bold" text-anchor="end" class="s">0</text>
<path d="M35.70 249.05H37.10" stroke="#222" stroke-width="0.8"/>
<path d="M34.50 234.90H37.10" stroke="#222" stroke-width="0.8"/>
<text x="34.10" y="237.20" font-size="5.3" font-weight="bold" text-anchor="end" class="s">20,000</text>
<path d="M35.70 220.75H37.10" stroke="#222" stroke-width="0.8"/>
<path d="M34.50 206.60H37.10" stroke="#222" stroke-width="0.8"/>
<text x="34.10" y="208.90" font-size="5.3" font-weight="bold" text-anchor="end" class="s">40,000</text>
<path d="M35.70 192.45H37.10" stroke="#222" stroke-width="0.8"/>
<path d="M34.50 178.30H37.10" stroke="#222" stroke-width="0.8"/>
<text x="34.10" y="180.60" font-size="5.3" font-weight="bold" text-anchor="end" class="s">60,000</text>
<text class="s" x="9.50" y="220.70" font-size="5.8" font-weight="bold" text-anchor="middle" transform="rotate(-90 9.50 220.70)" dy="2">Distance (cm)</text>
<rect x="52.30" y="252.45" width="20.6" height="10.75" fill="#ffffff" stroke="#111" stroke-width="0.8"/>
<text x="62.60" y="269.10" font-size="5.4" font-weight="bold" text-anchor="middle" class="s">Saline</text>
<circle cx="53.60" cy="247.49" r="1.6" fill="#fff" stroke="#111" stroke-width="0.7"/>
<circle cx="59.60" cy="248.20" r="1.6" fill="#fff" stroke="#111" stroke-width="0.7"/>
<circle cx="65.60" cy="248.20" r="1.6" fill="#fff" stroke="#111" stroke-width="0.7"/>
<circle cx="71.60" cy="248.91" r="1.6" fill="#fff" stroke="#111" stroke-width="0.7"/>
<circle cx="53.10" cy="251.74" r="1.6" fill="#fff" stroke="#111" stroke-width="0.7"/>
<circle cx="56.27" cy="251.74" r="1.6" fill="#fff" stroke="#111" stroke-width="0.7"/>
<circle cx="59.43" cy="251.74" r="1.6" fill="#fff" stroke="#111" stroke-width="0.7"/>
<circle cx="62.60" cy="251.74" r="1.6" fill="#fff" stroke="#111" stroke-width="0.7"/>
<circle cx="65.77" cy="251.74" r="1.6" fill="#fff" stroke="#111" stroke-width="0.7"/>
<circle cx="68.93" cy="251.74" r="1.6" fill="#fff" stroke="#111" stroke-width="0.7"/>
<circle cx="72.10" cy="251.74" r="1.6" fill="#fff" stroke="#111" stroke-width="0.7"/>
<circle cx="56.60" cy="254.57" r="1.6" fill="#fff" stroke="#111" stroke-width="0.7"/>
<circle cx="62.60" cy="254.57" r="1.6" fill="#fff" stroke="#111" stroke-width="0.7"/>
<circle cx="68.60" cy="255.98" r="1.6" fill="#fff" stroke="#111" stroke-width="0.7"/>
<circle cx="62.60" cy="261.64" r="1.6" fill="#fff" stroke="#111" stroke-width="0.7"/>
<path d="M57.10 252.45H68.10M62.60 252.45V251.52M59.60 251.52H65.60" stroke="#111" stroke-width="0.9"/>
<rect x="83.45" y="234.19" width="20.6" height="29.01" fill="#bfdaf7" stroke="#111" stroke-width="0.8"/>
<text x="93.75" y="269.10" font-size="5.4" font-weight="bold" text-anchor="middle" class="s">2.5 mg kg<tspan font-size="3.6" dy="-2">-1</tspan></text>
<circle cx="84.75" cy="223.16" r="1.6" fill="#fff" stroke="#111" stroke-width="0.7"/>
<circle cx="90.75" cy="223.16" r="1.6" fill="#fff" stroke="#111" stroke-width="0.7"/>
<circle cx="96.75" cy="223.16" r="1.6" fill="#fff" stroke="#111" stroke-width="0.7"/>
<circle cx="102.75" cy="223.16" r="1.6" fill="#fff" stroke="#111" stroke-width="0.7"/>
<circle cx="90.75" cy="227.82" r="1.6" fill="#fff" stroke="#111" stroke-width="0.7"/>
<circle cx="96.75" cy="227.82" r="1.6" fill="#fff" stroke="#111" stroke-width="0.7"/>
<circle cx="93.75" cy="231.22" r="1.6" fill="#fff" stroke="#111" stroke-width="0.7"/>
<circle cx="84.25" cy="238.86" r="1.6" fill="#fff" stroke="#111" stroke-width="0.7"/>
<circle cx="89.00" cy="238.86" r="1.6" fill="#fff" stroke="#111" stroke-width="0.7"/>
<circle cx="93.75" cy="238.86" r="1.6" fill="#fff" stroke="#111" stroke-width="0.7"/>
<circle cx="98.50" cy="238.86" r="1.6" fill="#fff" stroke="#111" stroke-width="0.7"/>
<circle cx="103.25" cy="240.42" r="1.6" fill="#fff" stroke="#111" stroke-width="0.7"/>
<circle cx="93.75" cy="245.37" r="1.6" fill="#fff" stroke="#111" stroke-width="0.7"/>
<circle cx="93.75" cy="249.62" r="1.6" fill="#fff" stroke="#111" stroke-width="0.7"/>
<path d="M88.25 234.19H99.25M93.75 234.19V231.78M90.75 231.78H96.75" stroke="#111" stroke-width="0.9"/>
<text x="93.75" y="219.90" font-size="9.5" font-weight="bold" text-anchor="middle" >***</text>
<rect x="114.60" y="221.74" width="20.6" height="41.46" fill="#72a2e6" stroke="#111" stroke-width="0.8"/>
<text x="124.90" y="269.10" font-size="5.4" font-weight="bold" text-anchor="middle" class="s">10 mg kg<tspan font-size="3.6" dy="-2">-1</tspan></text>
<circle cx="124.90" cy="202.07" r="1.6" fill="#fff" stroke="#111" stroke-width="0.7"/>
<circle cx="121.90" cy="206.74" r="1.6" fill="#fff" stroke="#111" stroke-width="0.7"/>
<circle cx="127.90" cy="209.15" r="1.6" fill="#fff" stroke="#111" stroke-width="0.7"/>
<circle cx="124.90" cy="210.99" r="1.6" fill="#fff" stroke="#111" stroke-width="0.7"/>
<circle cx="121.90" cy="215.23" r="1.6" fill="#fff" stroke="#111" stroke-width="0.7"/>
<circle cx="127.90" cy="216.08" r="1.6" fill="#fff" stroke="#111" stroke-width="0.7"/>
<circle cx="124.90" cy="218.63" r="1.6" fill="#fff" stroke="#111" stroke-width="0.7"/>
<circle cx="124.90" cy="223.72" r="1.6" fill="#fff" stroke="#111" stroke-width="0.7"/>
<circle cx="121.90" cy="227.97" r="1.6" fill="#fff" stroke="#111" stroke-width="0.7"/>
<circle cx="127.90" cy="228.82" r="1.6" fill="#fff" stroke="#111" stroke-width="0.7"/>
<circle cx="121.90" cy="231.79" r="1.6" fill="#fff" stroke="#111" stroke-width="0.7"/>
<circle cx="127.90" cy="234.05" r="1.6" fill="#fff" stroke="#111" stroke-width="0.7"/>
<circle cx="124.90" cy="235.61" r="1.6" fill="#fff" stroke="#111" stroke-width="0.7"/>
<circle cx="124.90" cy="238.86" r="1.6" fill="#fff" stroke="#111" stroke-width="0.7"/>
<path d="M119.40 221.74H130.40M124.90 221.74V218.60M121.90 218.60H127.90" stroke="#111" stroke-width="0.9"/>
<text class="h" x="120.40" y="189.40" font-size="9.6" font-weight="normal" textLength="9.00" lengthAdjust="spacingAndGlyphs">##</text>
<text x="124.90" y="198.60" font-size="9.5" font-weight="bold" text-anchor="middle" >***</text>
<rect x="145.75" y="222.87" width="20.6" height="40.33" fill="#0f336a" stroke="#111" stroke-width="0.8"/>
<text x="156.05" y="269.10" font-size="5.4" font-weight="bold" text-anchor="middle" class="s">25 mg kg<tspan font-size="3.6" dy="-2">-1</tspan></text>
<circle cx="156.05" cy="192.87" r="1.6" fill="#fff" stroke="#111" stroke-width="0.7"/>
<circle cx="156.05" cy="204.19" r="1.6" fill="#fff" stroke="#111" stroke-width="0.7"/>
<circle cx="156.05" cy="214.81" r="1.6" fill="#fff" stroke="#111" stroke-width="0.7"/>
<circle cx="146.55" cy="220.47" r="1.6" fill="#fff" stroke="#111" stroke-width="0.7"/>
<circle cx="151.30" cy="220.47" r="1.6" fill="#fff" stroke="#111" stroke-width="0.7"/>
<circle cx="156.05" cy="220.47" r="1.6" fill="#fff" stroke="#111" stroke-width="0.7"/>
<circle cx="160.80" cy="220.47" r="1.6" fill="#fff" stroke="#111" stroke-width="0.7"/>
<circle cx="165.55" cy="220.47" r="1.6" fill="#fff" stroke="#111" stroke-width="0.7"/>
<circle cx="150.05" cy="225.56" r="1.6" fill="#fff" stroke="#111" stroke-width="0.7"/>
<circle cx="156.05" cy="226.83" r="1.6" fill="#fff" stroke="#111" stroke-width="0.7"/>
<circle cx="162.05" cy="226.83" r="1.6" fill="#fff" stroke="#111" stroke-width="0.7"/>
<circle cx="156.05" cy="229.24" r="1.6" fill="#fff" stroke="#111" stroke-width="0.7"/>
<circle cx="156.05" cy="232.21" r="1.6" fill="#fff" stroke="#111" stroke-width="0.7"/>
<circle cx="156.05" cy="235.61" r="1.6" fill="#fff" stroke="#111" stroke-width="0.7"/>
<circle cx="156.05" cy="241.55" r="1.6" fill="#fff" stroke="#111" stroke-width="0.7"/>
<path d="M150.55 222.87H161.55M156.05 222.87V219.78M153.05 219.78H159.05" stroke="#111" stroke-width="0.9"/>
<text class="h" x="153.80" y="179.10" font-size="9.6" font-weight="normal" textLength="4.50" lengthAdjust="spacingAndGlyphs">#</text>
<text x="156.05" y="190.20" font-size="9.5" font-weight="bold" text-anchor="middle" >***</text>
<path d="M57.70 162.50V201.50H113.70" fill="none" stroke="#333" stroke-width="0.55"/>
<path d="M56.50 201.50H57.70M56.50 191.75H57.70M56.50 182.00H57.70M56.50 172.25H57.70M56.50 162.50H57.70M57.90 201.50V202.50M62.35 201.50V202.50M66.80 201.50V202.50M71.25 201.50V202.50M75.70 201.50V202.50M80.15 201.50V202.50M84.60 201.50V202.50M89.05 201.50V202.50M93.50 201.50V202.50M97.95 201.50V202.50M102.40 201.50V202.50M106.85 201.50V202.50M111.30 201.50V202.50" stroke="#333" stroke-width="0.4"/>
<g class="it">
<text x="56.20" y="202.50" font-size="2.9" text-anchor="end">0</text>
<text x="56.20" y="192.75" font-size="2.9" text-anchor="end">1000</text>
<text x="56.20" y="183.00" font-size="2.9" text-anchor="end">2000</text>
<text x="56.20" y="173.25" font-size="2.9" text-anchor="end">3000</text>
<text x="56.20" y="163.50" font-size="2.9" text-anchor="end">4000</text>
<text x="57.90" y="206.10" font-size="2.7" text-anchor="middle">0</text>
<text x="62.35" y="206.10" font-size="2.7" text-anchor="middle">5</text>
<text x="66.80" y="206.10" font-size="2.7" text-anchor="middle">10</text>
<text x="71.25" y="206.10" font-size="2.7" text-anchor="middle">15</text>
<text x="75.70" y="206.10" font-size="2.7" text-anchor="middle">20</text>
<text x="80.15" y="206.10" font-size="2.7" text-anchor="middle">25</text>
<text x="84.60" y="206.10" font-size="2.7" text-anchor="middle">30</text>
<text x="89.05" y="206.10" font-size="2.7" text-anchor="middle">35</text>
<text x="93.50" y="206.10" font-size="2.7" text-anchor="middle">40</text>
<text x="97.95" y="206.10" font-size="2.7" text-anchor="middle">45</text>
<text x="102.40" y="206.10" font-size="2.7" text-anchor="middle">50</text>
<text x="106.85" y="206.10" font-size="2.7" text-anchor="middle">55</text>
<text x="111.30" y="206.10" font-size="2.7" text-anchor="middle">60</text>
<text x="86.50" y="210.70" font-size="3" text-anchor="middle">Time (min)</text>
<text x="43.50" y="182.00" font-size="3" text-anchor="middle" transform="rotate(-90 43.50 182.00)" dy="1">Distance (cm)</text>
</g>
<path d="M60.00 158.10H112.70" stroke="#888" stroke-width="0.5"/>
<path d="M60.00 164.40H112.70" stroke="#888" stroke-width="0.5"/>
<text x="85.40" y="160.20" font-size="5" font-weight="normal" text-anchor="middle" fill="#555">‡</text>
<text x="85.40" y="164.00" font-size="3" font-weight="normal" text-anchor="middle" fill="#555">*</text>
<path d="M62.35 178.01V181.33M61.75 178.01H62.95M61.75 181.33H62.95M66.80 171.46V174.78M66.20 171.46H67.40M66.20 174.78H67.40M71.25 171.46V174.78M70.65 171.46H71.85M70.65 174.78H71.85M75.70 173.64V176.96M75.10 173.64H76.30M75.10 176.96H76.30M80.15 174.81V178.13M79.55 174.81H80.75M79.55 178.13H80.75M84.60 176.56V179.87M84.00 176.56H85.20M84.00 179.87H85.20M89.05 177.28V180.60M88.45 177.28H89.65M88.45 180.60H89.65M93.50 177.28V180.60M92.90 177.28H94.10M92.90 180.60H94.10M97.95 178.01V181.33M97.35 178.01H98.55M97.35 181.33H98.55M102.40 178.01V181.33M101.80 178.01H103.00M101.80 181.33H103.00M106.85 178.74V182.06M106.25 178.74H107.45M106.25 182.06H107.45M111.30 178.74V182.06M110.70 178.74H111.90M110.70 182.06H111.90" stroke="#666" stroke-width="0.3" fill="none"/>
<path d="M62.35 176.12V178.85M61.85 176.12H62.85M61.85 178.85H62.85M66.80 168.41V171.14M66.30 168.41H67.30M66.30 171.14H67.30M71.25 171.02V173.75M70.75 171.02H71.75M70.75 173.75H71.75M75.70 173.64V176.37M75.20 173.64H76.20M75.20 176.37H76.20M80.15 174.67V177.40M79.65 174.67H80.65M79.65 177.40H80.65M84.60 176.56V179.29M84.10 176.56H85.10M84.10 179.29H85.10M89.05 177.13V179.86M88.55 177.13H89.55M88.55 179.86H89.55M93.50 178.01V180.74M93.00 178.01H94.00M93.00 180.74H94.00M97.95 178.30V181.03M97.45 178.30H98.45M97.45 181.03H98.45M102.40 178.60V181.33M101.90 178.60H102.90M101.90 181.33H102.90M106.85 179.47V182.19M106.35 179.47H107.35M106.35 182.19H107.35M111.30 180.49V183.22M110.80 180.49H111.80M110.80 183.22H111.80" stroke="#aaa" stroke-width="0.3" fill="none"/>
<polyline points="62.35,191.31 66.80,194.23 71.25,194.95 75.70,194.51 80.15,194.95 84.60,194.51 89.05,195.39 93.50,195.39 97.95,195.68 102.40,195.68 106.85,196.40 111.30,195.97" fill="none" stroke="#999" stroke-width="0.5"/>
<polyline points="62.35,177.49 66.80,169.77 71.25,172.39 75.70,175.01 80.15,176.03 84.60,177.92 89.05,178.50 93.50,179.38 97.95,179.67 102.40,179.96 106.85,180.83 111.30,181.85" fill="none" stroke="#aaa" stroke-width="0.6"/>
<polyline points="62.35,181.85 66.80,178.50 71.25,179.96 75.70,181.85 80.15,183.31 84.60,184.76 89.05,185.78 93.50,185.78 97.95,186.94 102.40,187.67 106.85,188.11 111.30,188.11" fill="none" stroke="#444" stroke-width="0.45" stroke-dasharray="0.8 0.8"/>
<polyline points="62.35,179.67 66.80,173.12 71.25,173.12 75.70,175.30 80.15,176.47 84.60,178.22 89.05,178.94 93.50,178.94 97.95,179.67 102.40,179.67 106.85,180.40 111.30,180.40" fill="none" stroke="#444" stroke-width="0.45" stroke-dasharray="0.8 0.8"/>
<circle cx="62.35" cy="191.31" r="0.7" fill="#fff" stroke="#777" stroke-width="0.35"/>
<circle cx="66.80" cy="194.23" r="0.7" fill="#fff" stroke="#777" stroke-width="0.35"/>
<circle cx="71.25" cy="194.95" r="0.7" fill="#fff" stroke="#777" stroke-width="0.35"/>
<circle cx="75.70" cy="194.51" r="0.7" fill="#fff" stroke="#777" stroke-width="0.35"/>
<circle cx="80.15" cy="194.95" r="0.7" fill="#fff" stroke="#777" stroke-width="0.35"/>
<circle cx="84.60" cy="194.51" r="0.7" fill="#fff" stroke="#777" stroke-width="0.35"/>
<circle cx="89.05" cy="195.39" r="0.7" fill="#fff" stroke="#777" stroke-width="0.35"/>
<circle cx="93.50" cy="195.39" r="0.7" fill="#fff" stroke="#777" stroke-width="0.35"/>
<circle cx="97.95" cy="195.68" r="0.7" fill="#fff" stroke="#777" stroke-width="0.35"/>
<circle cx="102.40" cy="195.68" r="0.7" fill="#fff" stroke="#777" stroke-width="0.35"/>
<circle cx="106.85" cy="196.40" r="0.7" fill="#fff" stroke="#777" stroke-width="0.35"/>
<circle cx="111.30" cy="195.97" r="0.7" fill="#fff" stroke="#777" stroke-width="0.35"/>
<rect x="61.75" y="176.89" width="1.2" height="1.2" fill="#fff" stroke="#aaa" stroke-width="0.3"/>
<rect x="66.20" y="169.17" width="1.2" height="1.2" fill="#fff" stroke="#aaa" stroke-width="0.3"/>
<rect x="70.65" y="171.79" width="1.2" height="1.2" fill="#fff" stroke="#aaa" stroke-width="0.3"/>
<rect x="75.10" y="174.41" width="1.2" height="1.2" fill="#fff" stroke="#aaa" stroke-width="0.3"/>
<rect x="79.55" y="175.43" width="1.2" height="1.2" fill="#fff" stroke="#aaa" stroke-width="0.3"/>
<rect x="84.00" y="177.32" width="1.2" height="1.2" fill="#fff" stroke="#aaa" stroke-width="0.3"/>
<rect x="88.45" y="177.90" width="1.2" height="1.2" fill="#fff" stroke="#aaa" stroke-width="0.3"/>
<rect x="92.90" y="178.78" width="1.2" height="1.2" fill="#fff" stroke="#aaa" stroke-width="0.3"/>
<rect x="97.35" y="179.07" width="1.2" height="1.2" fill="#fff" stroke="#aaa" stroke-width="0.3"/>
<rect x="101.80" y="179.36" width="1.2" height="1.2" fill="#fff" stroke="#aaa" stroke-width="0.3"/>
<rect x="106.25" y="180.23" width="1.2" height="1.2" fill="#fff" stroke="#aaa" stroke-width="0.3"/>
<rect x="110.70" y="181.25" width="1.2" height="1.2" fill="#fff" stroke="#aaa" stroke-width="0.3"/>
<circle cx="62.35" cy="181.85" r="0.85" fill="#111"/>
<circle cx="66.80" cy="178.50" r="0.85" fill="#111"/>
<circle cx="71.25" cy="179.96" r="0.85" fill="#111"/>
<circle cx="75.70" cy="181.85" r="0.85" fill="#111"/>
<circle cx="80.15" cy="183.31" r="0.85" fill="#111"/>
<circle cx="84.60" cy="184.76" r="0.85" fill="#111"/>
<circle cx="89.05" cy="185.78" r="0.85" fill="#111"/>
<circle cx="93.50" cy="185.78" r="0.85" fill="#111"/>
<circle cx="97.95" cy="186.94" r="0.85" fill="#111"/>
<circle cx="102.40" cy="187.67" r="0.85" fill="#111"/>
<circle cx="106.85" cy="188.11" r="0.85" fill="#111"/>
<circle cx="111.30" cy="188.11" r="0.85" fill="#111"/>
<path d="M61.45 178.97H63.25L62.35 180.57Z" fill="#222"/>
<path d="M65.90 172.42H67.70L66.80 174.02Z" fill="#222"/>
<path d="M70.35 172.42H72.15L71.25 174.02Z" fill="#222"/>
<path d="M74.80 174.60H76.60L75.70 176.20Z" fill="#222"/>
<path d="M79.25 175.77H81.05L80.15 177.37Z" fill="#222"/>
<path d="M83.70 177.52H85.50L84.60 179.12Z" fill="#222"/>
<path d="M88.15 178.24H89.95L89.05 179.84Z" fill="#222"/>
<path d="M92.60 178.24H94.40L93.50 179.84Z" fill="#222"/>
<path d="M97.05 178.97H98.85L97.95 180.57Z" fill="#222"/>
<path d="M101.50 178.97H103.30L102.40 180.57Z" fill="#222"/>
<path d="M105.95 179.70H107.75L106.85 181.30Z" fill="#222"/>
<path d="M110.40 179.70H112.20L111.30 181.30Z" fill="#222"/>
<text x="186.10" y="156.70" font-size="10.4" font-weight="bold" text-anchor="start" class="L">D</text>
<text class="T" x="254.65" y="152.60" font-size="7.2" font-weight="bold" textLength="39.3" lengthAdjust="spacingAndGlyphs">4-Cl-<tspan font-weight="normal" font-family="Liberation Serif" font-size="7.4">α</tspan>-PVP</text>
<path d="M219.80 178.30V263.20H364.80" fill="none" stroke="#222" stroke-width="0.9"/>
<path d="M217.20 263.20H219.80" stroke="#222" stroke-width="0.8"/>
<text x="216.80" y="265.50" font-size="5.3" font-weight="bold" text-anchor="end" class="s">0</text>
<path d="M218.40 249.05H219.80" stroke="#222" stroke-width="0.8"/>
<path d="M217.20 234.90H219.80" stroke="#222" stroke-width="0.8"/>
<text x="216.80" y="237.20" font-size="5.3" font-weight="bold" text-anchor="end" class="s">20,000</text>
<path d="M218.40 220.75H219.80" stroke="#222" stroke-width="0.8"/>
<path d="M217.20 206.60H219.80" stroke="#222" stroke-width="0.8"/>
<text x="216.80" y="208.90" font-size="5.3" font-weight="bold" text-anchor="end" class="s">40,000</text>
<path d="M218.40 192.45H219.80" stroke="#222" stroke-width="0.8"/>
<path d="M217.20 178.30H219.80" stroke="#222" stroke-width="0.8"/>
<text x="216.80" y="180.60" font-size="5.3" font-weight="bold" text-anchor="end" class="s">60,000</text>
<text class="s" x="192.20" y="220.70" font-size="5.8" font-weight="bold" text-anchor="middle" transform="rotate(-90 192.20 220.70)" dy="2">Distance (cm)</text>
<rect x="235.90" y="250.04" width="20.6" height="13.16" fill="#ffffff" stroke="#111" stroke-width="0.8"/>
<text x="246.20" y="269.10" font-size="5.4" font-weight="bold" text-anchor="middle" class="s">Saline</text>
<circle cx="246.20" cy="238.72" r="1.6" fill="#fff" stroke="#111" stroke-width="0.7"/>
<circle cx="243.20" cy="243.53" r="1.6" fill="#fff" stroke="#111" stroke-width="0.7"/>
<circle cx="249.20" cy="245.37" r="1.6" fill="#fff" stroke="#111" stroke-width="0.7"/>
<circle cx="243.20" cy="246.36" r="1.6" fill="#fff" stroke="#111" stroke-width="0.7"/>
<circle cx="249.20" cy="248.20" r="1.6" fill="#fff" stroke="#111" stroke-width="0.7"/>
<circle cx="243.20" cy="249.19" r="1.6" fill="#fff" stroke="#111" stroke-width="0.7"/>
<circle cx="249.20" cy="249.62" r="1.6" fill="#fff" stroke="#111" stroke-width="0.7"/>
<circle cx="236.70" cy="253.86" r="1.6" fill="#fff" stroke="#111" stroke-width="0.7"/>
<circle cx="241.45" cy="253.86" r="1.6" fill="#fff" stroke="#111" stroke-width="0.7"/>
<circle cx="246.20" cy="254.85" r="1.6" fill="#fff" stroke="#111" stroke-width="0.7"/>
<circle cx="250.95" cy="254.85" r="1.6" fill="#fff" stroke="#111" stroke-width="0.7"/>
<circle cx="255.70" cy="255.70" r="1.6" fill="#fff" stroke="#111" stroke-width="0.7"/>
<circle cx="246.20" cy="257.12" r="1.6" fill="#fff" stroke="#111" stroke-width="0.7"/>
<path d="M240.70 250.04H251.70M246.20 250.04V248.51M243.20 248.51H249.20" stroke="#111" stroke-width="0.9"/>
<rect x="267.35" y="248.06" width="20.6" height="15.14" fill="#bfdaf7" stroke="#111" stroke-width="0.8"/>
<text x="277.65" y="269.10" font-size="5.4" font-weight="bold" text-anchor="middle" class="s">2.5 mg kg<tspan font-size="3.6" dy="-2">-1</tspan></text>
<circle cx="277.65" cy="236.46" r="1.6" fill="#fff" stroke="#111" stroke-width="0.7"/>
<circle cx="271.65" cy="242.54" r="1.6" fill="#fff" stroke="#111" stroke-width="0.7"/>
<circle cx="277.65" cy="242.97" r="1.6" fill="#fff" stroke="#111" stroke-width="0.7"/>
<circle cx="283.65" cy="243.25" r="1.6" fill="#fff" stroke="#111" stroke-width="0.7"/>
<circle cx="268.65" cy="245.37" r="1.6" fill="#fff" stroke="#111" stroke-width="0.7"/>
<circle cx="274.65" cy="247.21" r="1.6" fill="#fff" stroke="#111" stroke-width="0.7"/>
<circle cx="280.65" cy="247.21" r="1.6" fill="#fff" stroke="#111" stroke-width="0.7"/>
<circle cx="286.65" cy="247.21" r="1.6" fill="#fff" stroke="#111" stroke-width="0.7"/>
<circle cx="268.65" cy="248.63" r="1.6" fill="#fff" stroke="#111" stroke-width="0.7"/>
<circle cx="274.65" cy="248.91" r="1.6" fill="#fff" stroke="#111" stroke-width="0.7"/>
<circle cx="280.65" cy="250.61" r="1.6" fill="#fff" stroke="#111" stroke-width="0.7"/>
<circle cx="286.65" cy="251.03" r="1.6" fill="#fff" stroke="#111" stroke-width="0.7"/>
<circle cx="274.65" cy="253.86" r="1.6" fill="#fff" stroke="#111" stroke-width="0.7"/>
<circle cx="280.65" cy="255.98" r="1.6" fill="#fff" stroke="#111" stroke-width="0.7"/>
<circle cx="277.65" cy="257.40" r="1.6" fill="#fff" stroke="#111" stroke-width="0.7"/>
<path d="M272.15 248.06H283.15M277.65 248.06V246.64M274.65 246.64H280.65" stroke="#111" stroke-width="0.9"/>
<rect x="298.80" y="230.80" width="20.6" height="32.40" fill="#72a2e6" stroke="#111" stroke-width="0.8"/>
<text x="309.10" y="269.10" font-size="5.4" font-weight="bold" text-anchor="middle" class="s">10 mg kg<tspan font-size="3.6" dy="-2">-1</tspan></text>
<circle cx="306.10" cy="219.90" r="1.6" fill="#fff" stroke="#111" stroke-width="0.7"/>
<circle cx="312.10" cy="222.45" r="1.6" fill="#fff" stroke="#111" stroke-width="0.7"/>
<circle cx="306.10" cy="226.13" r="1.6" fill="#fff" stroke="#111" stroke-width="0.7"/>
<circle cx="312.10" cy="226.13" r="1.6" fill="#fff" stroke="#111" stroke-width="0.7"/>
<circle cx="300.10" cy="229.95" r="1.6" fill="#fff" stroke="#111" stroke-width="0.7"/>
<circle cx="306.10" cy="230.65" r="1.6" fill="#fff" stroke="#111" stroke-width="0.7"/>
<circle cx="312.10" cy="230.65" r="1.6" fill="#fff" stroke="#111" stroke-width="0.7"/>
<circle cx="318.10" cy="231.22" r="1.6" fill="#fff" stroke="#111" stroke-width="0.7"/>
<circle cx="300.10" cy="234.33" r="1.6" fill="#fff" stroke="#111" stroke-width="0.7"/>
<circle cx="306.10" cy="235.04" r="1.6" fill="#fff" stroke="#111" stroke-width="0.7"/>
<circle cx="312.10" cy="235.61" r="1.6" fill="#fff" stroke="#111" stroke-width="0.7"/>
<circle cx="318.10" cy="235.89" r="1.6" fill="#fff" stroke="#111" stroke-width="0.7"/>
<circle cx="309.10" cy="241.27" r="1.6" fill="#fff" stroke="#111" stroke-width="0.7"/>
<path d="M303.60 230.80H314.60M309.10 230.80V229.15M306.10 229.15H312.10" stroke="#111" stroke-width="0.9"/>
<text class="h" x="302.35" y="207.10" font-size="9.6" font-weight="normal" textLength="13.50" lengthAdjust="spacingAndGlyphs">###</text>
<text x="309.10" y="217.40" font-size="9.5" font-weight="bold" text-anchor="middle" >***</text>
<rect x="330.25" y="215.23" width="20.6" height="47.97" fill="#0f336a" stroke="#111" stroke-width="0.8"/>
<text x="340.55" y="269.10" font-size="5.4" font-weight="bold" text-anchor="middle" class="s">25 mg kg<tspan font-size="3.6" dy="-2">-1</tspan></text>
<circle cx="340.55" cy="191.60" r="1.6" fill="#fff" stroke="#111" stroke-width="0.7"/>
<circle cx="340.55" cy="196.27" r="1.6" fill="#fff" stroke="#111" stroke-width="0.7"/>
<circle cx="337.55" cy="200.09" r="1.6" fill="#fff" stroke="#111" stroke-width="0.7"/>
<circle cx="343.55" cy="200.94" r="1.6" fill="#fff" stroke="#111" stroke-width="0.7"/>
<circle cx="340.55" cy="209.85" r="1.6" fill="#fff" stroke="#111" stroke-width="0.7"/>
<circle cx="334.55" cy="214.81" r="1.6" fill="#fff" stroke="#111" stroke-width="0.7"/>
<circle cx="340.55" cy="217.07" r="1.6" fill="#fff" stroke="#111" stroke-width="0.7"/>
<circle cx="346.55" cy="217.50" r="1.6" fill="#fff" stroke="#111" stroke-width="0.7"/>
<circle cx="337.55" cy="218.63" r="1.6" fill="#fff" stroke="#111" stroke-width="0.7"/>
<circle cx="343.55" cy="220.47" r="1.6" fill="#fff" stroke="#111" stroke-width="0.7"/>
<circle cx="340.55" cy="225.00" r="1.6" fill="#fff" stroke="#111" stroke-width="0.7"/>
<circle cx="334.55" cy="231.79" r="1.6" fill="#fff" stroke="#111" stroke-width="0.7"/>
<circle cx="340.55" cy="233.06" r="1.6" fill="#fff" stroke="#111" stroke-width="0.7"/>
<circle cx="346.55" cy="233.77" r="1.6" fill="#fff" stroke="#111" stroke-width="0.7"/>
<path d="M335.05 215.23H346.05M340.55 215.23V211.56M337.55 211.56H343.55" stroke="#111" stroke-width="0.9"/>
<text class="h" x="333.80" y="169.60" font-size="9.4" font-weight="normal" textLength="13.50" lengthAdjust="spacingAndGlyphs">$$$</text>
<text class="h" x="333.80" y="180.30" font-size="9.6" font-weight="normal" textLength="13.50" lengthAdjust="spacingAndGlyphs">###</text>
<text x="340.55" y="190.40" font-size="9.5" font-weight="bold" text-anchor="middle" >***</text>
<path d="M240.60 163.60V201.70H296.60" fill="none" stroke="#333" stroke-width="0.55"/>
<path d="M239.40 201.70H240.60M239.40 192.17H240.60M239.40 182.65H240.60M239.40 173.12H240.60M239.40 163.60H240.60M240.80 201.70V202.70M245.25 201.70V202.70M249.70 201.70V202.70M254.15 201.70V202.70M258.60 201.70V202.70M263.05 201.70V202.70M267.50 201.70V202.70M271.95 201.70V202.70M276.40 201.70V202.70M280.85 201.70V202.70M285.30 201.70V202.70M289.75 201.70V202.70M294.20 201.70V202.70" stroke="#333" stroke-width="0.4"/>
<g class="it">
<text x="239.10" y="202.70" font-size="2.9" text-anchor="end">0</text>
<text x="239.10" y="193.17" font-size="2.9" text-anchor="end">1000</text>
<text x="239.10" y="183.65" font-size="2.9" text-anchor="end">2000</text>
<text x="239.10" y="174.12" font-size="2.9" text-anchor="end">3000</text>
<text x="239.10" y="164.60" font-size="2.9" text-anchor="end">4000</text>
<text x="240.80" y="206.30" font-size="2.7" text-anchor="middle">0</text>
<text x="245.25" y="206.30" font-size="2.7" text-anchor="middle">5</text>
<text x="249.70" y="206.30" font-size="2.7" text-anchor="middle">10</text>
<text x="254.15" y="206.30" font-size="2.7" text-anchor="middle">15</text>
<text x="258.60" y="206.30" font-size="2.7" text-anchor="middle">20</text>
<text x="263.05" y="206.30" font-size="2.7" text-anchor="middle">25</text>
<text x="267.50" y="206.30" font-size="2.7" text-anchor="middle">30</text>
<text x="271.95" y="206.30" font-size="2.7" text-anchor="middle">35</text>
<text x="276.40" y="206.30" font-size="2.7" text-anchor="middle">40</text>
<text x="280.85" y="206.30" font-size="2.7" text-anchor="middle">45</text>
<text x="285.30" y="206.30" font-size="2.7" text-anchor="middle">50</text>
<text x="289.75" y="206.30" font-size="2.7" text-anchor="middle">55</text>
<text x="294.20" y="206.30" font-size="2.7" text-anchor="middle">60</text>
<text x="269.40" y="210.90" font-size="3" text-anchor="middle">Time (min)</text>
<text x="226.40" y="182.65" font-size="3" text-anchor="middle" transform="rotate(-90 226.40 182.65)" dy="1">Distance (cm)</text>
</g>
<path d="M242.40 160.40H293.30" stroke="#888" stroke-width="0.5"/>
<path d="M242.40 164.40H278.00" stroke="#888" stroke-width="0.5"/>
<path d="M283.00 164.40H290.40" stroke="#888" stroke-width="0.5"/>
<text x="266.40" y="159.60" font-size="3.2" font-weight="normal" text-anchor="middle" fill="#555">$</text>
<text x="260.50" y="163.60" font-size="3.2" font-weight="normal" text-anchor="middle" fill="#555">#</text>
<text x="287.00" y="163.60" font-size="3.2" font-weight="normal" text-anchor="middle" fill="#555">#</text>
<path d="M245.25 171.87V175.11M244.65 171.87H245.85M244.65 175.11H245.85M249.70 166.63V169.87M249.10 166.63H250.30M249.10 169.87H250.30M254.15 168.95V172.19M253.55 168.95H254.75M253.55 172.19H254.75M258.60 171.43V174.67M258.00 171.43H259.20M258.00 174.67H259.20M263.05 172.15V175.39M262.45 172.15H263.65M262.45 175.39H263.65M267.50 172.15V175.39M266.90 172.15H268.10M266.90 175.39H268.10M271.95 172.15V175.39M271.35 172.15H272.55M271.35 175.39H272.55M276.40 172.89V176.13M275.80 172.89H277.00M275.80 176.13H277.00M280.85 175.35V178.59M280.25 175.35H281.45M280.25 178.59H281.45M285.30 175.79V179.03M284.70 175.79H285.90M284.70 179.03H285.90M289.75 177.25V180.49M289.15 177.25H290.35M289.15 180.49H290.35M294.20 177.68V180.92M293.60 177.68H294.80M293.60 180.92H294.80" stroke="#666" stroke-width="0.3" fill="none"/>
<path d="M245.25 177.96V180.63M244.75 177.96H245.75M244.75 180.63H245.75M249.70 176.52V179.18M249.20 176.52H250.20M249.20 179.18H250.20M254.15 179.72V182.38M253.65 179.72H254.65M253.65 182.38H254.65M258.60 181.16V183.83M258.10 181.16H259.10M258.10 183.83H259.10M263.05 182.92V185.58M262.55 182.92H263.55M262.55 185.58H263.55M267.50 183.78V186.45M267.00 183.78H268.00M267.00 186.45H268.00M271.95 183.78V186.45M271.45 183.78H272.45M271.45 186.45H272.45M276.40 182.75V185.41M275.90 182.75H276.90M275.90 185.41H276.90M280.85 184.36V187.03M280.35 184.36H281.35M280.35 187.03H281.35M285.30 183.78V186.45M284.80 183.78H285.80M284.80 186.45H285.80M289.75 185.24V187.91M289.25 185.24H290.25M289.25 187.91H290.25M294.20 186.26V188.93M293.70 186.26H294.70M293.70 188.93H294.70" stroke="#aaa" stroke-width="0.3" fill="none"/>
<polyline points="245.25,191.23 249.70,193.84 254.15,194.42 258.60,194.86 263.05,195.30 267.50,194.86 271.95,194.14 276.40,193.84 280.85,194.14 285.30,194.42 289.75,194.42 294.20,194.86" fill="none" stroke="#999" stroke-width="0.5"/>
<polyline points="245.25,179.30 249.70,177.85 254.15,181.05 258.60,182.50 263.05,184.25 267.50,185.12 271.95,185.12 276.40,184.08 280.85,185.70 285.30,185.12 289.75,186.57 294.20,187.59" fill="none" stroke="#aaa" stroke-width="0.6"/>
<polyline points="245.25,189.48 249.70,190.50 254.15,191.52 258.60,192.98 263.05,192.68 267.50,193.41 271.95,192.98 276.40,193.84 280.85,194.42 285.30,194.86 289.75,194.86 294.20,195.30" fill="none" stroke="#444" stroke-width="0.45" stroke-dasharray="0.8 0.8"/>
<polyline points="245.25,173.49 249.70,168.25 254.15,170.57 258.60,173.05 263.05,173.77 267.50,173.77 271.95,173.77 276.40,174.51 280.85,176.97 285.30,177.41 289.75,178.87 294.20,179.30" fill="none" stroke="#444" stroke-width="0.45" stroke-dasharray="0.8 0.8"/>
<circle cx="245.25" cy="191.23" r="0.7" fill="#fff" stroke="#777" stroke-width="0.35"/>
<circle cx="249.70" cy="193.84" r="0.7" fill="#fff" stroke="#777" stroke-width="0.35"/>
<circle cx="254.15" cy="194.42" r="0.7" fill="#fff" stroke="#777" stroke-width="0.35"/>
<circle cx="258.60" cy="194.86" r="0.7" fill="#fff" stroke="#777" stroke-width="0.35"/>
<circle cx="263.05" cy="195.30" r="0.7" fill="#fff" stroke="#777" stroke-width="0.35"/>
<circle cx="267.50" cy="194.86" r="0.7" fill="#fff" stroke="#777" stroke-width="0.35"/>
<circle cx="271.95" cy="194.14" r="0.7" fill="#fff" stroke="#777" stroke-width="0.35"/>
<circle cx="276.40" cy="193.84" r="0.7" fill="#fff" stroke="#777" stroke-width="0.35"/>
<circle cx="280.85" cy="194.14" r="0.7" fill="#fff" stroke="#777" stroke-width="0.35"/>
<circle cx="285.30" cy="194.42" r="0.7" fill="#fff" stroke="#777" stroke-width="0.35"/>
<circle cx="289.75" cy="194.42" r="0.7" fill="#fff" stroke="#777" stroke-width="0.35"/>
<circle cx="294.20" cy="194.86" r="0.7" fill="#fff" stroke="#777" stroke-width="0.35"/>
<rect x="244.65" y="178.70" width="1.2" height="1.2" fill="#fff" stroke="#aaa" stroke-width="0.3"/>
<rect x="249.10" y="177.25" width="1.2" height="1.2" fill="#fff" stroke="#aaa" stroke-width="0.3"/>
<rect x="253.55" y="180.45" width="1.2" height="1.2" fill="#fff" stroke="#aaa" stroke-width="0.3"/>
<rect x="258.00" y="181.90" width="1.2" height="1.2" fill="#fff" stroke="#aaa" stroke-width="0.3"/>
<rect x="262.45" y="183.65" width="1.2" height="1.2" fill="#fff" stroke="#aaa" stroke-width="0.3"/>
<rect x="266.90" y="184.52" width="1.2" height="1.2" fill="#fff" stroke="#aaa" stroke-width="0.3"/>
<rect x="271.35" y="184.52" width="1.2" height="1.2" fill="#fff" stroke="#aaa" stroke-width="0.3"/>
<rect x="275.80" y="183.48" width="1.2" height="1.2" fill="#fff" stroke="#aaa" stroke-width="0.3"/>
<rect x="280.25" y="185.10" width="1.2" height="1.2" fill="#fff" stroke="#aaa" stroke-width="0.3"/>
<rect x="284.70" y="184.52" width="1.2" height="1.2" fill="#fff" stroke="#aaa" stroke-width="0.3"/>
<rect x="289.15" y="185.97" width="1.2" height="1.2" fill="#fff" stroke="#aaa" stroke-width="0.3"/>
<rect x="293.60" y="186.99" width="1.2" height="1.2" fill="#fff" stroke="#aaa" stroke-width="0.3"/>
<circle cx="245.25" cy="189.48" r="0.85" fill="#111"/>
<circle cx="249.70" cy="190.50" r="0.85" fill="#111"/>
<circle cx="254.15" cy="191.52" r="0.85" fill="#111"/>
<circle cx="258.60" cy="192.98" r="0.85" fill="#111"/>
<circle cx="263.05" cy="192.68" r="0.85" fill="#111"/>
<circle cx="267.50" cy="193.41" r="0.85" fill="#111"/>
<circle cx="271.95" cy="192.98" r="0.85" fill="#111"/>
<circle cx="276.40" cy="193.84" r="0.85" fill="#111"/>
<circle cx="280.85" cy="194.42" r="0.85" fill="#111"/>
<circle cx="285.30" cy="194.86" r="0.85" fill="#111"/>
<circle cx="289.75" cy="194.86" r="0.85" fill="#111"/>
<circle cx="294.20" cy="195.30" r="0.85" fill="#111"/>
<path d="M244.35 172.79H246.15L245.25 174.39Z" fill="#222"/>
<path d="M248.80 167.55H250.60L249.70 169.15Z" fill="#222"/>
<path d="M253.25 169.87H255.05L254.15 171.47Z" fill="#222"/>
<path d="M257.70 172.35H259.50L258.60 173.95Z" fill="#222"/>
<path d="M262.15 173.07H263.95L263.05 174.67Z" fill="#222"/>
<path d="M266.60 173.07H268.40L267.50 174.67Z" fill="#222"/>
<path d="M271.05 173.07H272.85L271.95 174.67Z" fill="#222"/>
<path d="M275.50 173.81H277.30L276.40 175.41Z" fill="#222"/>
<path d="M279.95 176.27H281.75L280.85 177.87Z" fill="#222"/>
<path d="M284.40 176.71H286.20L285.30 178.31Z" fill="#222"/>
<path d="M288.85 178.17H290.65L289.75 179.77Z" fill="#222"/>
<path d="M293.30 178.60H295.10L294.20 180.20Z" fill="#222"/>
<text x="363.70" y="156.70" font-size="10.4" font-weight="bold" text-anchor="start" class="L">E</text>
<text class="T" x="426.90" y="152.40" font-size="7.2" font-weight="bold" textLength="49.6" lengthAdjust="spacingAndGlyphs">3,4-Cl<tspan font-size="5" dy="1.6">2</tspan><tspan dy="-1.6">-</tspan><tspan font-weight="normal" font-family="Liberation Serif" font-size="7.4">α</tspan>-PVP</text>
<path d="M397.20 178.30V263.20H542.20" fill="none" stroke="#222" stroke-width="0.9"/>
<path d="M394.60 263.20H397.20" stroke="#222" stroke-width="0.8"/>
<text x="394.20" y="265.50" font-size="5.3" font-weight="bold" text-anchor="end" class="s">0</text>
<path d="M395.80 249.05H397.20" stroke="#222" stroke-width="0.8"/>
<path d="M394.60 234.90H397.20" stroke="#222" stroke-width="0.8"/>
<text x="394.20" y="237.20" font-size="5.3" font-weight="bold" text-anchor="end" class="s">20,000</text>
<path d="M395.80 220.75H397.20" stroke="#222" stroke-width="0.8"/>
<path d="M394.60 206.60H397.20" stroke="#222" stroke-width="0.8"/>
<text x="394.20" y="208.90" font-size="5.3" font-weight="bold" text-anchor="end" class="s">40,000</text>
<path d="M395.80 192.45H397.20" stroke="#222" stroke-width="0.8"/>
<path d="M394.60 178.30H397.20" stroke="#222" stroke-width="0.8"/>
<text x="394.20" y="180.60" font-size="5.3" font-weight="bold" text-anchor="end" class="s">60,000</text>
<text class="s" x="369.60" y="220.70" font-size="5.8" font-weight="bold" text-anchor="middle" transform="rotate(-90 369.60 220.70)" dy="2">Distance (cm)</text>
<rect x="413.25" y="251.03" width="20.6" height="12.17" fill="#ffffff" stroke="#111" stroke-width="0.8"/>
<text x="423.55" y="269.10" font-size="5.4" font-weight="bold" text-anchor="middle" class="s">Saline</text>
<circle cx="417.55" cy="245.37" r="1.6" fill="#fff" stroke="#111" stroke-width="0.7"/>
<circle cx="423.55" cy="247.21" r="1.6" fill="#fff" stroke="#111" stroke-width="0.7"/>
<circle cx="429.55" cy="247.21" r="1.6" fill="#fff" stroke="#111" stroke-width="0.7"/>
<circle cx="414.05" cy="248.20" r="1.6" fill="#fff" stroke="#111" stroke-width="0.7"/>
<circle cx="417.85" cy="249.62" r="1.6" fill="#fff" stroke="#111" stroke-width="0.7"/>
<circle cx="421.65" cy="249.62" r="1.6" fill="#fff" stroke="#111" stroke-width="0.7"/>
<circle cx="425.45" cy="249.62" r="1.6" fill="#fff" stroke="#111" stroke-width="0.7"/>
<circle cx="429.25" cy="249.62" r="1.6" fill="#fff" stroke="#111" stroke-width="0.7"/>
<circle cx="433.05" cy="249.62" r="1.6" fill="#fff" stroke="#111" stroke-width="0.7"/>
<circle cx="420.55" cy="251.74" r="1.6" fill="#fff" stroke="#111" stroke-width="0.7"/>
<circle cx="426.55" cy="253.86" r="1.6" fill="#fff" stroke="#111" stroke-width="0.7"/>
<circle cx="423.55" cy="254.57" r="1.6" fill="#fff" stroke="#111" stroke-width="0.7"/>
<circle cx="420.55" cy="257.68" r="1.6" fill="#fff" stroke="#111" stroke-width="0.7"/>
<circle cx="426.55" cy="258.11" r="1.6" fill="#fff" stroke="#111" stroke-width="0.7"/>
<path d="M418.05 251.03H429.05M423.55 251.03V250.00M420.55 250.00H426.55" stroke="#111" stroke-width="0.9"/>
<rect x="444.75" y="246.22" width="20.6" height="16.98" fill="#bfdaf7" stroke="#111" stroke-width="0.8"/>
<text x="455.05" y="269.10" font-size="5.4" font-weight="bold" text-anchor="middle" class="s">2.5 mg kg<tspan font-size="3.6" dy="-2">-1</tspan></text>
<circle cx="449.05" cy="240.70" r="1.6" fill="#fff" stroke="#111" stroke-width="0.7"/>
<circle cx="455.05" cy="242.54" r="1.6" fill="#fff" stroke="#111" stroke-width="0.7"/>
<circle cx="461.05" cy="243.25" r="1.6" fill="#fff" stroke="#111" stroke-width="0.7"/>
<circle cx="445.55" cy="246.36" r="1.6" fill="#fff" stroke="#111" stroke-width="0.7"/>
<circle cx="449.35" cy="247.21" r="1.6" fill="#fff" stroke="#111" stroke-width="0.7"/>
<circle cx="453.15" cy="248.20" r="1.6" fill="#fff" stroke="#111" stroke-width="0.7"/>
<circle cx="456.95" cy="248.20" r="1.6" fill="#fff" stroke="#111" stroke-width="0.7"/>
<circle cx="460.75" cy="248.20" r="1.6" fill="#fff" stroke="#111" stroke-width="0.7"/>
<circle cx="464.55" cy="248.20" r="1.6" fill="#fff" stroke="#111" stroke-width="0.7"/>
<circle cx="452.05" cy="250.04" r="1.6" fill="#fff" stroke="#111" stroke-width="0.7"/>
<circle cx="458.05" cy="251.74" r="1.6" fill="#fff" stroke="#111" stroke-width="0.7"/>
<circle cx="452.05" cy="252.87" r="1.6" fill="#fff" stroke="#111" stroke-width="0.7"/>
<circle cx="458.05" cy="254.85" r="1.6" fill="#fff" stroke="#111" stroke-width="0.7"/>
<circle cx="455.05" cy="255.98" r="1.6" fill="#fff" stroke="#111" stroke-width="0.7"/>
<path d="M449.55 246.22H460.55M455.05 246.22V245.03M452.05 245.03H458.05" stroke="#111" stroke-width="0.9"/>
<rect x="476.25" y="238.01" width="20.6" height="25.19" fill="#72a2e6" stroke="#111" stroke-width="0.8"/>
<text x="486.55" y="269.10" font-size="5.4" font-weight="bold" text-anchor="middle" class="s">10 mg kg<tspan font-size="3.6" dy="-2">-1</tspan></text>
<circle cx="483.55" cy="226.55" r="1.6" fill="#fff" stroke="#111" stroke-width="0.7"/>
<circle cx="489.55" cy="226.55" r="1.6" fill="#fff" stroke="#111" stroke-width="0.7"/>
<circle cx="477.55" cy="233.34" r="1.6" fill="#fff" stroke="#111" stroke-width="0.7"/>
<circle cx="483.55" cy="234.90" r="1.6" fill="#fff" stroke="#111" stroke-width="0.7"/>
<circle cx="489.55" cy="234.90" r="1.6" fill="#fff" stroke="#111" stroke-width="0.7"/>
<circle cx="495.55" cy="236.03" r="1.6" fill="#fff" stroke="#111" stroke-width="0.7"/>
<circle cx="486.55" cy="236.31" r="1.6" fill="#fff" stroke="#111" stroke-width="0.7"/>
<circle cx="477.55" cy="241.55" r="1.6" fill="#fff" stroke="#111" stroke-width="0.7"/>
<circle cx="483.55" cy="242.40" r="1.6" fill="#fff" stroke="#111" stroke-width="0.7"/>
<circle cx="489.55" cy="243.11" r="1.6" fill="#fff" stroke="#111" stroke-width="0.7"/>
<circle cx="495.55" cy="243.53" r="1.6" fill="#fff" stroke="#111" stroke-width="0.7"/>
<circle cx="483.55" cy="246.64" r="1.6" fill="#fff" stroke="#111" stroke-width="0.7"/>
<circle cx="489.55" cy="247.49" r="1.6" fill="#fff" stroke="#111" stroke-width="0.7"/>
<path d="M481.05 238.01H492.05M486.55 238.01V236.11M483.55 236.11H489.55" stroke="#111" stroke-width="0.9"/>
<text class="h" x="479.80" y="214.80" font-size="9.6" font-weight="normal" textLength="13.50" lengthAdjust="spacingAndGlyphs">###</text>
<text x="486.55" y="223.60" font-size="9.5" font-weight="bold" text-anchor="middle" >***</text>
<rect x="507.75" y="230.23" width="20.6" height="32.97" fill="#0f336a" stroke="#111" stroke-width="0.8"/>
<text x="518.05" y="269.10" font-size="5.4" font-weight="bold" text-anchor="middle" class="s">25 mg kg<tspan font-size="3.6" dy="-2">-1</tspan></text>
<circle cx="512.05" cy="225.56" r="1.6" fill="#fff" stroke="#111" stroke-width="0.7"/>
<circle cx="518.05" cy="226.55" r="1.6" fill="#fff" stroke="#111" stroke-width="0.7"/>
<circle cx="524.05" cy="227.82" r="1.6" fill="#fff" stroke="#111" stroke-width="0.7"/>
<circle cx="508.55" cy="229.81" r="1.6" fill="#fff" stroke="#111" stroke-width="0.7"/>
<circle cx="513.30" cy="229.81" r="1.6" fill="#fff" stroke="#111" stroke-width="0.7"/>
<circle cx="518.05" cy="230.09" r="1.6" fill="#fff" stroke="#111" stroke-width="0.7"/>
<circle cx="522.80" cy="231.79" r="1.6" fill="#fff" stroke="#111" stroke-width="0.7"/>
<circle cx="527.55" cy="232.49" r="1.6" fill="#fff" stroke="#111" stroke-width="0.7"/>
<circle cx="509.05" cy="232.64" r="1.6" fill="#fff" stroke="#111" stroke-width="0.7"/>
<circle cx="515.05" cy="233.06" r="1.6" fill="#fff" stroke="#111" stroke-width="0.7"/>
<circle cx="521.05" cy="233.91" r="1.6" fill="#fff" stroke="#111" stroke-width="0.7"/>
<circle cx="527.05" cy="235.04" r="1.6" fill="#fff" stroke="#111" stroke-width="0.7"/>
<circle cx="518.05" cy="236.46" r="1.6" fill="#fff" stroke="#111" stroke-width="0.7"/>
<path d="M512.55 230.23H523.55M518.05 230.23V229.33M515.05 229.33H521.05" stroke="#111" stroke-width="0.9"/>
<text class="h" x="513.55" y="198.80" font-size="9.4" font-weight="normal" textLength="9.00" lengthAdjust="spacingAndGlyphs">$$</text>
<text class="h" x="511.30" y="209.10" font-size="9.6" font-weight="normal" textLength="13.50" lengthAdjust="spacingAndGlyphs">###</text>
<text x="518.05" y="218.80" font-size="9.5" font-weight="bold" text-anchor="middle" >***</text>
<path d="M418.20 164.00V201.80H474.20" fill="none" stroke="#333" stroke-width="0.55"/>
<path d="M417.00 201.80H418.20M417.00 192.35H418.20M417.00 182.90H418.20M417.00 173.45H418.20M417.00 164.00H418.20M418.40 201.80V202.80M422.85 201.80V202.80M427.30 201.80V202.80M431.75 201.80V202.80M436.20 201.80V202.80M440.65 201.80V202.80M445.10 201.80V202.80M449.55 201.80V202.80M454.00 201.80V202.80M458.45 201.80V202.80M462.90 201.80V202.80M467.35 201.80V202.80M471.80 201.80V202.80" stroke="#333" stroke-width="0.4"/>
<g class="it">
<text x="416.70" y="202.80" font-size="2.9" text-anchor="end">0</text>
<text x="416.70" y="193.35" font-size="2.9" text-anchor="end">1000</text>
<text x="416.70" y="183.90" font-size="2.9" text-anchor="end">2000</text>
<text x="416.70" y="174.45" font-size="2.9" text-anchor="end">3000</text>
<text x="416.70" y="165.00" font-size="2.9" text-anchor="end">4000</text>
<text x="418.40" y="206.40" font-size="2.7" text-anchor="middle">0</text>
<text x="422.85" y="206.40" font-size="2.7" text-anchor="middle">5</text>
<text x="427.30" y="206.40" font-size="2.7" text-anchor="middle">10</text>
<text x="431.75" y="206.40" font-size="2.7" text-anchor="middle">15</text>
<text x="436.20" y="206.40" font-size="2.7" text-anchor="middle">20</text>
<text x="440.65" y="206.40" font-size="2.7" text-anchor="middle">25</text>
<text x="445.10" y="206.40" font-size="2.7" text-anchor="middle">30</text>
<text x="449.55" y="206.40" font-size="2.7" text-anchor="middle">35</text>
<text x="454.00" y="206.40" font-size="2.7" text-anchor="middle">40</text>
<text x="458.45" y="206.40" font-size="2.7" text-anchor="middle">45</text>
<text x="462.90" y="206.40" font-size="2.7" text-anchor="middle">50</text>
<text x="467.35" y="206.40" font-size="2.7" text-anchor="middle">55</text>
<text x="471.80" y="206.40" font-size="2.7" text-anchor="middle">60</text>
<text x="447.00" y="211.00" font-size="3" text-anchor="middle">Time (min)</text>
<text x="404.00" y="182.90" font-size="3" text-anchor="middle" transform="rotate(-90 404.00 182.90)" dy="1">Distance (cm)</text>
</g>
<path d="M418.90 166.20H472.70" stroke="#888" stroke-width="0.5"/>
<path d="M418.90 169.50H472.70" stroke="#888" stroke-width="0.5"/>
<text x="446.50" y="169.50" font-size="5" font-weight="normal" text-anchor="middle" fill="#555">‡</text>
<path d="M422.85 178.83V182.04M422.25 178.83H423.45M422.25 182.04H423.45M427.30 171.99V175.21M426.70 171.99H427.90M426.70 175.21H427.90M431.75 176.64V179.86M431.15 176.64H432.35M431.15 179.86H432.35M436.20 179.85V183.06M435.60 179.85H436.80M435.60 183.06H436.80M440.65 182.17V185.39M440.05 182.17H441.25M440.05 185.39H441.25M445.10 183.18V186.40M444.50 183.18H445.70M444.50 186.40H445.70M449.55 183.91V187.12M448.95 183.91H450.15M448.95 187.12H450.15M454.00 184.64V187.85M453.40 184.64H454.60M453.40 187.85H454.60M458.45 185.07V188.29M457.85 185.07H459.05M457.85 188.29H459.05M462.90 186.09V189.31M462.30 186.09H463.50M462.30 189.31H463.50M467.35 186.53V189.74M466.75 186.53H467.95M466.75 189.74H467.95M471.80 187.55V190.76M471.20 187.55H472.40M471.20 190.76H472.40" stroke="#666" stroke-width="0.3" fill="none"/>
<path d="M422.85 182.46V185.10M422.35 182.46H423.35M422.35 185.10H423.35M427.30 179.84V182.48M426.80 179.84H427.80M426.80 182.48H427.80M431.75 182.75V185.39M431.25 182.75H432.25M431.25 185.39H432.25M436.20 185.94V188.59M435.70 185.94H436.70M435.70 188.59H436.70M440.65 187.11V189.75M440.15 187.11H441.15M440.15 189.75H441.15M445.10 187.11V189.75M444.60 187.11H445.60M444.60 189.75H445.60M449.55 187.83V190.48M449.05 187.83H450.05M449.05 190.48H450.05M454.00 187.83V190.48M453.50 187.83H454.50M453.50 190.48H454.50M458.45 188.85V191.50M457.95 188.85H458.95M457.95 191.50H458.95M462.90 189.29V191.93M462.40 189.29H463.40M462.40 191.93H463.40M467.35 190.02V192.66M466.85 190.02H467.85M466.85 192.66H467.85M471.80 190.30V192.95M471.30 190.30H472.30M471.30 192.95H472.30" stroke="#aaa" stroke-width="0.3" fill="none"/>
<polyline points="422.85,193.08 427.30,193.96 431.75,194.24 436.20,194.24 440.65,194.97 445.10,194.53 449.55,195.40 454.00,195.70 458.45,196.42 462.90,195.70 467.35,196.42 471.80,197.15" fill="none" stroke="#999" stroke-width="0.5"/>
<polyline points="422.85,183.78 427.30,181.16 431.75,184.07 436.20,187.27 440.65,188.43 445.10,188.43 449.55,189.16 454.00,189.16 458.45,190.18 462.90,190.61 467.35,191.34 471.80,191.62" fill="none" stroke="#aaa" stroke-width="0.6"/>
<polyline points="422.85,191.34 427.30,192.50 431.75,193.08 436.20,193.96 440.65,193.51 445.10,193.96 449.55,194.24 454.00,194.24 458.45,193.96 462.90,194.97 467.35,195.40 471.80,195.70" fill="none" stroke="#444" stroke-width="0.45" stroke-dasharray="0.8 0.8"/>
<polyline points="422.85,180.43 427.30,173.60 431.75,178.25 436.20,181.45 440.65,183.78 445.10,184.79 449.55,185.52 454.00,186.25 458.45,186.68 462.90,187.70 467.35,188.14 471.80,189.16" fill="none" stroke="#444" stroke-width="0.45" stroke-dasharray="0.8 0.8"/>
<circle cx="422.85" cy="193.08" r="0.7" fill="#fff" stroke="#777" stroke-width="0.35"/>
<circle cx="427.30" cy="193.96" r="0.7" fill="#fff" stroke="#777" stroke-width="0.35"/>
<circle cx="431.75" cy="194.24" r="0.7" fill="#fff" stroke="#777" stroke-width="0.35"/>
<circle cx="436.20" cy="194.24" r="0.7" fill="#fff" stroke="#777" stroke-width="0.35"/>
<circle cx="440.65" cy="194.97" r="0.7" fill="#fff" stroke="#777" stroke-width="0.35"/>
<circle cx="445.10" cy="194.53" r="0.7" fill="#fff" stroke="#777" stroke-width="0.35"/>
<circle cx="449.55" cy="195.40" r="0.7" fill="#fff" stroke="#777" stroke-width="0.35"/>
<circle cx="454.00" cy="195.70" r="0.7" fill="#fff" stroke="#777" stroke-width="0.35"/>
<circle cx="458.45" cy="196.42" r="0.7" fill="#fff" stroke="#777" stroke-width="0.35"/>
<circle cx="462.90" cy="195.70" r="0.7" fill="#fff" stroke="#777" stroke-width="0.35"/>
<circle cx="467.35" cy="196.42" r="0.7" fill="#fff" stroke="#777" stroke-width="0.35"/>
<circle cx="471.80" cy="197.15" r="0.7" fill="#fff" stroke="#777" stroke-width="0.35"/>
<rect x="422.25" y="183.18" width="1.2" height="1.2" fill="#fff" stroke="#aaa" stroke-width="0.3"/>
<rect x="426.70" y="180.56" width="1.2" height="1.2" fill="#fff" stroke="#aaa" stroke-width="0.3"/>
<rect x="431.15" y="183.47" width="1.2" height="1.2" fill="#fff" stroke="#aaa" stroke-width="0.3"/>
<rect x="435.60" y="186.67" width="1.2" height="1.2" fill="#fff" stroke="#aaa" stroke-width="0.3"/>
<rect x="440.05" y="187.83" width="1.2" height="1.2" fill="#fff" stroke="#aaa" stroke-width="0.3"/>
<rect x="444.50" y="187.83" width="1.2" height="1.2" fill="#fff" stroke="#aaa" stroke-width="0.3"/>
<rect x="448.95" y="188.56" width="1.2" height="1.2" fill="#fff" stroke="#aaa" stroke-width="0.3"/>
<rect x="453.40" y="188.56" width="1.2" height="1.2" fill="#fff" stroke="#aaa" stroke-width="0.3"/>
<rect x="457.85" y="189.58" width="1.2" height="1.2" fill="#fff" stroke="#aaa" stroke-width="0.3"/>
<rect x="462.30" y="190.01" width="1.2" height="1.2" fill="#fff" stroke="#aaa" stroke-width="0.3"/>
<rect x="466.75" y="190.74" width="1.2" height="1.2" fill="#fff" stroke="#aaa" stroke-width="0.3"/>
<rect x="471.20" y="191.02" width="1.2" height="1.2" fill="#fff" stroke="#aaa" stroke-width="0.3"/>
<circle cx="422.85" cy="191.34" r="0.85" fill="#111"/>
<circle cx="427.30" cy="192.50" r="0.85" fill="#111"/>
<circle cx="431.75" cy="193.08" r="0.85" fill="#111"/>
<circle cx="436.20" cy="193.96" r="0.85" fill="#111"/>
<circle cx="440.65" cy="193.51" r="0.85" fill="#111"/>
<circle cx="445.10" cy="193.96" r="0.85" fill="#111"/>
<circle cx="449.55" cy="194.24" r="0.85" fill="#111"/>
<circle cx="454.00" cy="194.24" r="0.85" fill="#111"/>
<circle cx="458.45" cy="193.96" r="0.85" fill="#111"/>
<circle cx="462.90" cy="194.97" r="0.85" fill="#111"/>
<circle cx="467.35" cy="195.40" r="0.85" fill="#111"/>
<circle cx="471.80" cy="195.70" r="0.85" fill="#111"/>
<path d="M421.95 179.73H423.75L422.85 181.33Z" fill="#222"/>
<path d="M426.40 172.90H428.20L427.30 174.50Z" fill="#222"/>
<path d="M430.85 177.55H432.65L431.75 179.15Z" fill="#222"/>
<path d="M435.30 180.75H437.10L436.20 182.35Z" fill="#222"/>
<path d="M439.75 183.08H441.55L440.65 184.68Z" fill="#222"/>
<path d="M444.20 184.09H446.00L445.10 185.69Z" fill="#222"/>
<path d="M448.65 184.82H450.45L449.55 186.42Z" fill="#222"/>
<path d="M453.10 185.55H454.90L454.00 187.15Z" fill="#222"/>
<path d="M457.55 185.98H459.35L458.45 187.58Z" fill="#222"/>
<path d="M462.00 187.00H463.80L462.90 188.60Z" fill="#222"/>
<path d="M466.45 187.44H468.25L467.35 189.04Z" fill="#222"/>
<path d="M470.90 188.46H472.70L471.80 190.06Z" fill="#222"/>
<text x="107.90" y="301.10" font-size="10.4" font-weight="bold" text-anchor="start" class="L">F</text>
<text class="T" x="176.40" y="291.60" font-size="7.2" font-weight="bold" textLength="40.0" lengthAdjust="spacingAndGlyphs">3-Br-<tspan font-weight="normal" font-family="Liberation Serif" font-size="7.4">α</tspan>-PVP</text>
<path d="M141.90 315.30V400.20H286.90" fill="none" stroke="#222" stroke-width="0.9"/>
<path d="M139.30 400.20H141.90" stroke="#222" stroke-width="0.8"/>
<text x="138.90" y="402.50" font-size="5.3" font-weight="bold" text-anchor="end" class="s">0</text>
<path d="M140.50 386.05H141.90" stroke="#222" stroke-width="0.8"/>
<path d="M139.30 371.90H141.90" stroke="#222" stroke-width="0.8"/>
<text x="138.90" y="374.20" font-size="5.3" font-weight="bold" text-anchor="end" class="s">20,000</text>
<path d="M140.50 357.75H141.90" stroke="#222" stroke-width="0.8"/>
<path d="M139.30 343.60H141.90" stroke="#222" stroke-width="0.8"/>
<text x="138.90" y="345.90" font-size="5.3" font-weight="bold" text-anchor="end" class="s">40,000</text>
<path d="M140.50 329.45H141.90" stroke="#222" stroke-width="0.8"/>
<path d="M139.30 315.30H141.90" stroke="#222" stroke-width="0.8"/>
<text x="138.90" y="317.60" font-size="5.3" font-weight="bold" text-anchor="end" class="s">60,000</text>
<text class="s" x="114.30" y="357.70" font-size="5.8" font-weight="bold" text-anchor="middle" transform="rotate(-90 114.30 357.70)" dy="2">Distance (cm)</text>
<rect x="157.30" y="386.62" width="20.6" height="13.58" fill="#ffffff" stroke="#111" stroke-width="0.8"/>
<text x="167.60" y="406.10" font-size="5.4" font-weight="bold" text-anchor="middle" class="s">Saline</text>
<circle cx="158.10" cy="382.51" r="1.6" fill="#fff" stroke="#111" stroke-width="0.7"/>
<circle cx="160.81" cy="382.51" r="1.6" fill="#fff" stroke="#111" stroke-width="0.7"/>
<circle cx="163.53" cy="382.51" r="1.6" fill="#fff" stroke="#111" stroke-width="0.7"/>
<circle cx="166.24" cy="382.51" r="1.6" fill="#fff" stroke="#111" stroke-width="0.7"/>
<circle cx="168.96" cy="382.51" r="1.6" fill="#fff" stroke="#111" stroke-width="0.7"/>
<circle cx="171.67" cy="382.51" r="1.6" fill="#fff" stroke="#111" stroke-width="0.7"/>
<circle cx="174.39" cy="384.63" r="1.6" fill="#fff" stroke="#111" stroke-width="0.7"/>
<circle cx="177.10" cy="384.63" r="1.6" fill="#fff" stroke="#111" stroke-width="0.7"/>
<circle cx="161.60" cy="386.33" r="1.6" fill="#fff" stroke="#111" stroke-width="0.7"/>
<circle cx="167.60" cy="386.33" r="1.6" fill="#fff" stroke="#111" stroke-width="0.7"/>
<circle cx="173.60" cy="386.33" r="1.6" fill="#fff" stroke="#111" stroke-width="0.7"/>
<circle cx="167.60" cy="389.87" r="1.6" fill="#fff" stroke="#111" stroke-width="0.7"/>
<circle cx="161.60" cy="394.26" r="1.6" fill="#fff" stroke="#111" stroke-width="0.7"/>
<circle cx="167.60" cy="395.25" r="1.6" fill="#fff" stroke="#111" stroke-width="0.7"/>
<circle cx="173.60" cy="395.25" r="1.6" fill="#fff" stroke="#111" stroke-width="0.7"/>
<path d="M162.10 386.62H173.10M167.60 386.62V385.37M164.60 385.37H170.60" stroke="#111" stroke-width="0.9"/>
<rect x="188.80" y="380.96" width="20.6" height="19.24" fill="#bfdaf7" stroke="#111" stroke-width="0.8"/>
<text x="199.10" y="406.10" font-size="5.4" font-weight="bold" text-anchor="middle" class="s">2.5 mg kg<tspan font-size="3.6" dy="-2">-1</tspan></text>
<circle cx="199.10" cy="359.87" r="1.6" fill="#fff" stroke="#111" stroke-width="0.7"/>
<circle cx="196.10" cy="373.88" r="1.6" fill="#fff" stroke="#111" stroke-width="0.7"/>
<circle cx="202.10" cy="376.00" r="1.6" fill="#fff" stroke="#111" stroke-width="0.7"/>
<circle cx="193.10" cy="378.55" r="1.6" fill="#fff" stroke="#111" stroke-width="0.7"/>
<circle cx="199.10" cy="378.83" r="1.6" fill="#fff" stroke="#111" stroke-width="0.7"/>
<circle cx="205.10" cy="378.83" r="1.6" fill="#fff" stroke="#111" stroke-width="0.7"/>
<circle cx="193.10" cy="383.36" r="1.6" fill="#fff" stroke="#111" stroke-width="0.7"/>
<circle cx="199.10" cy="383.36" r="1.6" fill="#fff" stroke="#111" stroke-width="0.7"/>
<circle cx="205.10" cy="383.64" r="1.6" fill="#fff" stroke="#111" stroke-width="0.7"/>
<circle cx="193.10" cy="386.19" r="1.6" fill="#fff" stroke="#111" stroke-width="0.7"/>
<circle cx="199.10" cy="386.19" r="1.6" fill="#fff" stroke="#111" stroke-width="0.7"/>
<circle cx="205.10" cy="388.03" r="1.6" fill="#fff" stroke="#111" stroke-width="0.7"/>
<circle cx="199.10" cy="393.55" r="1.6" fill="#fff" stroke="#111" stroke-width="0.7"/>
<path d="M193.60 380.96H204.60M199.10 380.96V378.67M196.10 378.67H202.10" stroke="#111" stroke-width="0.9"/>
<rect x="220.30" y="368.79" width="20.6" height="31.41" fill="#72a2e6" stroke="#111" stroke-width="0.8"/>
<text x="230.60" y="406.10" font-size="5.4" font-weight="bold" text-anchor="middle" class="s">10 mg kg<tspan font-size="3.6" dy="-2">-1</tspan></text>
<circle cx="224.60" cy="360.58" r="1.6" fill="#fff" stroke="#111" stroke-width="0.7"/>
<circle cx="230.60" cy="363.27" r="1.6" fill="#fff" stroke="#111" stroke-width="0.7"/>
<circle cx="236.60" cy="363.27" r="1.6" fill="#fff" stroke="#111" stroke-width="0.7"/>
<circle cx="230.60" cy="365.39" r="1.6" fill="#fff" stroke="#111" stroke-width="0.7"/>
<circle cx="221.10" cy="369.49" r="1.6" fill="#fff" stroke="#111" stroke-width="0.7"/>
<circle cx="224.27" cy="369.49" r="1.6" fill="#fff" stroke="#111" stroke-width="0.7"/>
<circle cx="227.43" cy="369.49" r="1.6" fill="#fff" stroke="#111" stroke-width="0.7"/>
<circle cx="230.60" cy="369.49" r="1.6" fill="#fff" stroke="#111" stroke-width="0.7"/>
<circle cx="233.77" cy="369.49" r="1.6" fill="#fff" stroke="#111" stroke-width="0.7"/>
<circle cx="236.93" cy="369.49" r="1.6" fill="#fff" stroke="#111" stroke-width="0.7"/>
<circle cx="240.10" cy="371.76" r="1.6" fill="#fff" stroke="#111" stroke-width="0.7"/>
<circle cx="227.60" cy="374.87" r="1.6" fill="#fff" stroke="#111" stroke-width="0.7"/>
<circle cx="233.60" cy="374.87" r="1.6" fill="#fff" stroke="#111" stroke-width="0.7"/>
<circle cx="230.60" cy="377.98" r="1.6" fill="#fff" stroke="#111" stroke-width="0.7"/>
<path d="M225.10 368.79H236.10M230.60 368.79V367.49M227.60 367.49H233.60" stroke="#111" stroke-width="0.9"/>
<text class="h" x="223.85" y="347.10" font-size="9.6" font-weight="normal" textLength="13.50" lengthAdjust="spacingAndGlyphs">###</text>
<text x="230.60" y="357.80" font-size="9.5" font-weight="bold" text-anchor="middle" >***</text>
<rect x="251.80" y="360.30" width="20.6" height="39.90" fill="#0f336a" stroke="#111" stroke-width="0.8"/>
<text x="262.10" y="406.10" font-size="5.4" font-weight="bold" text-anchor="middle" class="s">25 mg kg<tspan font-size="3.6" dy="-2">-1</tspan></text>
<circle cx="262.10" cy="344.45" r="1.6" fill="#fff" stroke="#111" stroke-width="0.7"/>
<circle cx="259.10" cy="347.70" r="1.6" fill="#fff" stroke="#111" stroke-width="0.7"/>
<circle cx="265.10" cy="349.26" r="1.6" fill="#fff" stroke="#111" stroke-width="0.7"/>
<circle cx="262.10" cy="354.78" r="1.6" fill="#fff" stroke="#111" stroke-width="0.7"/>
<circle cx="256.10" cy="360.01" r="1.6" fill="#fff" stroke="#111" stroke-width="0.7"/>
<circle cx="262.10" cy="360.30" r="1.6" fill="#fff" stroke="#111" stroke-width="0.7"/>
<circle cx="268.10" cy="361.15" r="1.6" fill="#fff" stroke="#111" stroke-width="0.7"/>
<circle cx="256.10" cy="363.83" r="1.6" fill="#fff" stroke="#111" stroke-width="0.7"/>
<circle cx="262.10" cy="363.83" r="1.6" fill="#fff" stroke="#111" stroke-width="0.7"/>
<circle cx="268.10" cy="365.39" r="1.6" fill="#fff" stroke="#111" stroke-width="0.7"/>
<circle cx="259.10" cy="366.66" r="1.6" fill="#fff" stroke="#111" stroke-width="0.7"/>
<circle cx="265.10" cy="368.22" r="1.6" fill="#fff" stroke="#111" stroke-width="0.7"/>
<circle cx="262.10" cy="373.31" r="1.6" fill="#fff" stroke="#111" stroke-width="0.7"/>
<path d="M256.60 360.30H267.60M262.10 360.30V357.92M259.10 357.92H265.10" stroke="#111" stroke-width="0.9"/>
<text class="h" x="257.60" y="321.80" font-size="9.4" font-weight="normal" textLength="9.00" lengthAdjust="spacingAndGlyphs">$$</text>
<text class="h" x="255.35" y="332.10" font-size="9.6" font-weight="normal" textLength="13.50" lengthAdjust="spacingAndGlyphs">###</text>
<text x="262.10" y="341.40" font-size="9.5" font-weight="bold" text-anchor="middle" >***</text>
<path d="M162.70 299.50V337.30H218.70" fill="none" stroke="#333" stroke-width="0.55"/>
<path d="M161.50 337.30H162.70M161.50 327.85H162.70M161.50 318.40H162.70M161.50 308.95H162.70M161.50 299.50H162.70M162.90 337.30V338.30M167.35 337.30V338.30M171.80 337.30V338.30M176.25 337.30V338.30M180.70 337.30V338.30M185.15 337.30V338.30M189.60 337.30V338.30M194.05 337.30V338.30M198.50 337.30V338.30M202.95 337.30V338.30M207.40 337.30V338.30M211.85 337.30V338.30M216.30 337.30V338.30" stroke="#333" stroke-width="0.4"/>
<g class="it">
<text x="161.20" y="338.30" font-size="2.9" text-anchor="end">0</text>
<text x="161.20" y="328.85" font-size="2.9" text-anchor="end">1000</text>
<text x="161.20" y="319.40" font-size="2.9" text-anchor="end">2000</text>
<text x="161.20" y="309.95" font-size="2.9" text-anchor="end">3000</text>
<text x="161.20" y="300.50" font-size="2.9" text-anchor="end">4000</text>
<text x="162.90" y="341.90" font-size="2.7" text-anchor="middle">0</text>
<text x="167.35" y="341.90" font-size="2.7" text-anchor="middle">5</text>
<text x="171.80" y="341.90" font-size="2.7" text-anchor="middle">10</text>
<text x="176.25" y="341.90" font-size="2.7" text-anchor="middle">15</text>
<text x="180.70" y="341.90" font-size="2.7" text-anchor="middle">20</text>
<text x="185.15" y="341.90" font-size="2.7" text-anchor="middle">25</text>
<text x="189.60" y="341.90" font-size="2.7" text-anchor="middle">30</text>
<text x="194.05" y="341.90" font-size="2.7" text-anchor="middle">35</text>
<text x="198.50" y="341.90" font-size="2.7" text-anchor="middle">40</text>
<text x="202.95" y="341.90" font-size="2.7" text-anchor="middle">45</text>
<text x="207.40" y="341.90" font-size="2.7" text-anchor="middle">50</text>
<text x="211.85" y="341.90" font-size="2.7" text-anchor="middle">55</text>
<text x="216.30" y="341.90" font-size="2.7" text-anchor="middle">60</text>
<text x="191.50" y="346.50" font-size="3" text-anchor="middle">Time (min)</text>
<text x="148.50" y="318.40" font-size="3" text-anchor="middle" transform="rotate(-90 148.50 318.40)" dy="1">Distance (cm)</text>
</g>
<path d="M164.60 305.30H218.50" stroke="#888" stroke-width="0.5"/>
<text x="190.40" y="301.00" font-size="3.2" font-weight="normal" text-anchor="middle" fill="#555">$</text>
<text x="190.40" y="304.60" font-size="3.2" font-weight="normal" text-anchor="middle" fill="#555">#</text>
<path d="M167.35 309.97V313.18M166.75 309.97H167.95M166.75 313.18H167.95M171.80 307.34V310.56M171.20 307.34H172.40M171.20 310.56H172.40M176.25 310.25V313.47M175.65 310.25H176.85M175.65 313.47H176.85M180.70 311.71V314.92M180.10 311.71H181.30M180.10 314.92H181.30M185.15 312.87V316.08M184.55 312.87H185.75M184.55 316.08H185.75M189.60 313.16V316.38M189.00 313.16H190.20M189.00 316.38H190.20M194.05 313.89V317.11M193.45 313.89H194.65M193.45 317.11H194.65M198.50 314.33V317.54M197.90 314.33H199.10M197.90 317.54H199.10M202.95 316.08V319.29M202.35 316.08H203.55M202.35 319.29H203.55M207.40 316.36V319.57M206.80 316.36H208.00M206.80 319.57H208.00M211.85 315.78V319.00M211.25 315.78H212.45M211.25 319.00H212.45M216.30 318.25V321.46M215.70 318.25H216.90M215.70 321.46H216.90" stroke="#666" stroke-width="0.3" fill="none"/>
<path d="M167.35 317.08V319.72M166.85 317.08H167.85M166.85 319.72H167.85M171.80 310.54V313.18M171.30 310.54H172.30M171.30 313.18H172.30M176.25 314.61V317.26M175.75 314.61H176.75M175.75 317.26H176.75M180.70 316.36V319.00M180.20 316.36H181.20M180.20 319.00H181.20M185.15 317.80V320.45M184.65 317.80H185.65M184.65 320.45H185.65M189.60 319.55V322.20M189.10 319.55H190.10M189.10 322.20H190.10M194.05 320.42V323.07M193.55 320.42H194.55M193.55 323.07H194.55M198.50 320.72V323.36M198.00 320.72H199.00M198.00 323.36H199.00M202.95 321.44V324.09M202.45 321.44H203.45M202.45 324.09H203.45M207.40 323.33V325.98M206.90 323.33H207.90M206.90 325.98H207.90M211.85 322.90V325.54M211.35 322.90H212.35M211.35 325.54H212.35M216.30 323.63V326.27M215.80 323.63H216.80M215.80 326.27H216.80" stroke="#aaa" stroke-width="0.3" fill="none"/>
<polyline points="167.35,326.40 171.80,328.58 176.25,329.01 180.70,329.60 185.15,330.03 189.60,331.05 194.05,330.47 198.50,330.76 202.95,331.49 207.40,331.05 211.85,331.49 216.30,331.49" fill="none" stroke="#999" stroke-width="0.5"/>
<polyline points="167.35,318.40 171.80,311.86 176.25,315.93 180.70,317.68 185.15,319.13 189.60,320.88 194.05,321.75 198.50,322.04 202.95,322.77 207.40,324.66 211.85,324.22 216.30,324.95" fill="none" stroke="#aaa" stroke-width="0.6"/>
<polyline points="167.35,323.79 171.80,324.66 176.25,325.68 180.70,326.40 185.15,326.69 189.60,327.57 194.05,327.12 198.50,327.12 202.95,327.57 207.40,329.01 211.85,328.58 216.30,329.01" fill="none" stroke="#444" stroke-width="0.45" stroke-dasharray="0.8 0.8"/>
<polyline points="167.35,311.58 171.80,308.95 176.25,311.86 180.70,313.32 185.15,314.48 189.60,314.77 194.05,315.50 198.50,315.93 202.95,317.68 207.40,317.97 211.85,317.39 216.30,319.86" fill="none" stroke="#444" stroke-width="0.45" stroke-dasharray="0.8 0.8"/>
<circle cx="167.35" cy="326.40" r="0.7" fill="#fff" stroke="#777" stroke-width="0.35"/>
<circle cx="171.80" cy="328.58" r="0.7" fill="#fff" stroke="#777" stroke-width="0.35"/>
<circle cx="176.25" cy="329.01" r="0.7" fill="#fff" stroke="#777" stroke-width="0.35"/>
<circle cx="180.70" cy="329.60" r="0.7" fill="#fff" stroke="#777" stroke-width="0.35"/>
<circle cx="185.15" cy="330.03" r="0.7" fill="#fff" stroke="#777" stroke-width="0.35"/>
<circle cx="189.60" cy="331.05" r="0.7" fill="#fff" stroke="#777" stroke-width="0.35"/>
<circle cx="194.05" cy="330.47" r="0.7" fill="#fff" stroke="#777" stroke-width="0.35"/>
<circle cx="198.50" cy="330.76" r="0.7" fill="#fff" stroke="#777" stroke-width="0.35"/>
<circle cx="202.95" cy="331.49" r="0.7" fill="#fff" stroke="#777" stroke-width="0.35"/>
<circle cx="207.40" cy="331.05" r="0.7" fill="#fff" stroke="#777" stroke-width="0.35"/>
<circle cx="211.85" cy="331.49" r="0.7" fill="#fff" stroke="#777" stroke-width="0.35"/>
<circle cx="216.30" cy="331.49" r="0.7" fill="#fff" stroke="#777" stroke-width="0.35"/>
<rect x="166.75" y="317.80" width="1.2" height="1.2" fill="#fff" stroke="#aaa" stroke-width="0.3"/>
<rect x="171.20" y="311.26" width="1.2" height="1.2" fill="#fff" stroke="#aaa" stroke-width="0.3"/>
<rect x="175.65" y="315.33" width="1.2" height="1.2" fill="#fff" stroke="#aaa" stroke-width="0.3"/>
<rect x="180.10" y="317.08" width="1.2" height="1.2" fill="#fff" stroke="#aaa" stroke-width="0.3"/>
<rect x="184.55" y="318.53" width="1.2" height="1.2" fill="#fff" stroke="#aaa" stroke-width="0.3"/>
<rect x="189.00" y="320.28" width="1.2" height="1.2" fill="#fff" stroke="#aaa" stroke-width="0.3"/>
<rect x="193.45" y="321.15" width="1.2" height="1.2" fill="#fff" stroke="#aaa" stroke-width="0.3"/>
<rect x="197.90" y="321.44" width="1.2" height="1.2" fill="#fff" stroke="#aaa" stroke-width="0.3"/>
<rect x="202.35" y="322.17" width="1.2" height="1.2" fill="#fff" stroke="#aaa" stroke-width="0.3"/>
<rect x="206.80" y="324.06" width="1.2" height="1.2" fill="#fff" stroke="#aaa" stroke-width="0.3"/>
<rect x="211.25" y="323.62" width="1.2" height="1.2" fill="#fff" stroke="#aaa" stroke-width="0.3"/>
<rect x="215.70" y="324.35" width="1.2" height="1.2" fill="#fff" stroke="#aaa" stroke-width="0.3"/>
<circle cx="167.35" cy="323.79" r="0.85" fill="#111"/>
<circle cx="171.80" cy="324.66" r="0.85" fill="#111"/>
<circle cx="176.25" cy="325.68" r="0.85" fill="#111"/>
<circle cx="180.70" cy="326.40" r="0.85" fill="#111"/>
<circle cx="185.15" cy="326.69" r="0.85" fill="#111"/>
<circle cx="189.60" cy="327.57" r="0.85" fill="#111"/>
<circle cx="194.05" cy="327.12" r="0.85" fill="#111"/>
<circle cx="198.50" cy="327.12" r="0.85" fill="#111"/>
<circle cx="202.95" cy="327.57" r="0.85" fill="#111"/>
<circle cx="207.40" cy="329.01" r="0.85" fill="#111"/>
<circle cx="211.85" cy="328.58" r="0.85" fill="#111"/>
<circle cx="216.30" cy="329.01" r="0.85" fill="#111"/>
<path d="M166.45 310.88H168.25L167.35 312.48Z" fill="#222"/>
<path d="M170.90 308.25H172.70L171.80 309.85Z" fill="#222"/>
<path d="M175.35 311.16H177.15L176.25 312.76Z" fill="#222"/>
<path d="M179.80 312.62H181.60L180.70 314.22Z" fill="#222"/>
<path d="M184.25 313.78H186.05L185.15 315.38Z" fill="#222"/>
<path d="M188.70 314.07H190.50L189.60 315.67Z" fill="#222"/>
<path d="M193.15 314.80H194.95L194.05 316.40Z" fill="#222"/>
<path d="M197.60 315.23H199.40L198.50 316.83Z" fill="#222"/>
<path d="M202.05 316.98H203.85L202.95 318.58Z" fill="#222"/>
<path d="M206.50 317.27H208.30L207.40 318.87Z" fill="#222"/>
<path d="M210.95 316.69H212.75L211.85 318.29Z" fill="#222"/>
<path d="M215.40 319.16H217.20L216.30 320.76Z" fill="#222"/>
<text x="327.90" y="301.10" font-size="10.4" font-weight="bold" text-anchor="start" class="L">G</text>
<text class="T" x="396.70" y="291.70" font-size="7.2" font-weight="bold" textLength="40.0" lengthAdjust="spacingAndGlyphs">4-Br-<tspan font-weight="normal" font-family="Liberation Serif" font-size="7.4">α</tspan>-PVP</text>
<path d="M362.20 315.30V400.20H507.20" fill="none" stroke="#222" stroke-width="0.9"/>
<path d="M359.60 400.20H362.20" stroke="#222" stroke-width="0.8"/>
<text x="359.20" y="402.50" font-size="5.3" font-weight="bold" text-anchor="end" class="s">0</text>
<path d="M360.80 386.05H362.20" stroke="#222" stroke-width="0.8"/>
<path d="M359.60 371.90H362.20" stroke="#222" stroke-width="0.8"/>
<text x="359.20" y="374.20" font-size="5.3" font-weight="bold" text-anchor="end" class="s">20,000</text>
<path d="M360.80 357.75H362.20" stroke="#222" stroke-width="0.8"/>
<path d="M359.60 343.60H362.20" stroke="#222" stroke-width="0.8"/>
<text x="359.20" y="345.90" font-size="5.3" font-weight="bold" text-anchor="end" class="s">40,000</text>
<path d="M360.80 329.45H362.20" stroke="#222" stroke-width="0.8"/>
<path d="M359.60 315.30H362.20" stroke="#222" stroke-width="0.8"/>
<text x="359.20" y="317.60" font-size="5.3" font-weight="bold" text-anchor="end" class="s">60,000</text>
<text class="s" x="334.60" y="357.70" font-size="5.8" font-weight="bold" text-anchor="middle" transform="rotate(-90 334.60 357.70)" dy="2">Distance (cm)</text>
<rect x="378.05" y="385.77" width="20.6" height="14.43" fill="#ffffff" stroke="#111" stroke-width="0.8"/>
<text x="388.35" y="406.10" font-size="5.4" font-weight="bold" text-anchor="middle" class="s">Saline</text>
<circle cx="378.85" cy="383.36" r="1.6" fill="#fff" stroke="#111" stroke-width="0.7"/>
<circle cx="382.65" cy="384.07" r="1.6" fill="#fff" stroke="#111" stroke-width="0.7"/>
<circle cx="386.45" cy="384.63" r="1.6" fill="#fff" stroke="#111" stroke-width="0.7"/>
<circle cx="390.25" cy="384.78" r="1.6" fill="#fff" stroke="#111" stroke-width="0.7"/>
<circle cx="394.05" cy="385.48" r="1.6" fill="#fff" stroke="#111" stroke-width="0.7"/>
<circle cx="397.85" cy="386.05" r="1.6" fill="#fff" stroke="#111" stroke-width="0.7"/>
<circle cx="378.85" cy="386.76" r="1.6" fill="#fff" stroke="#111" stroke-width="0.7"/>
<circle cx="382.02" cy="386.76" r="1.6" fill="#fff" stroke="#111" stroke-width="0.7"/>
<circle cx="385.18" cy="386.76" r="1.6" fill="#fff" stroke="#111" stroke-width="0.7"/>
<circle cx="388.35" cy="386.76" r="1.6" fill="#fff" stroke="#111" stroke-width="0.7"/>
<circle cx="391.52" cy="388.31" r="1.6" fill="#fff" stroke="#111" stroke-width="0.7"/>
<circle cx="394.68" cy="388.74" r="1.6" fill="#fff" stroke="#111" stroke-width="0.7"/>
<circle cx="397.85" cy="389.02" r="1.6" fill="#fff" stroke="#111" stroke-width="0.7"/>
<circle cx="388.35" cy="392.84" r="1.6" fill="#fff" stroke="#111" stroke-width="0.7"/>
<path d="M382.85 385.77H393.85M388.35 385.77V385.11M385.35 385.11H391.35" stroke="#111" stroke-width="0.9"/>
<rect x="409.30" y="385.06" width="20.6" height="15.14" fill="#bfdaf7" stroke="#111" stroke-width="0.8"/>
<text x="419.60" y="406.10" font-size="5.4" font-weight="bold" text-anchor="middle" class="s">2.5 mg kg<tspan font-size="3.6" dy="-2">-1</tspan></text>
<circle cx="419.60" cy="377.56" r="1.6" fill="#fff" stroke="#111" stroke-width="0.7"/>
<circle cx="410.60" cy="380.39" r="1.6" fill="#fff" stroke="#111" stroke-width="0.7"/>
<circle cx="416.60" cy="380.96" r="1.6" fill="#fff" stroke="#111" stroke-width="0.7"/>
<circle cx="422.60" cy="381.24" r="1.6" fill="#fff" stroke="#111" stroke-width="0.7"/>
<circle cx="428.60" cy="383.08" r="1.6" fill="#fff" stroke="#111" stroke-width="0.7"/>
<circle cx="416.60" cy="383.64" r="1.6" fill="#fff" stroke="#111" stroke-width="0.7"/>
<circle cx="422.60" cy="384.63" r="1.6" fill="#fff" stroke="#111" stroke-width="0.7"/>
<circle cx="410.60" cy="386.76" r="1.6" fill="#fff" stroke="#111" stroke-width="0.7"/>
<circle cx="416.60" cy="388.17" r="1.6" fill="#fff" stroke="#111" stroke-width="0.7"/>
<circle cx="422.60" cy="389.30" r="1.6" fill="#fff" stroke="#111" stroke-width="0.7"/>
<circle cx="428.60" cy="389.30" r="1.6" fill="#fff" stroke="#111" stroke-width="0.7"/>
<circle cx="413.60" cy="389.87" r="1.6" fill="#fff" stroke="#111" stroke-width="0.7"/>
<circle cx="419.60" cy="390.44" r="1.6" fill="#fff" stroke="#111" stroke-width="0.7"/>
<circle cx="425.60" cy="391.85" r="1.6" fill="#fff" stroke="#111" stroke-width="0.7"/>
<path d="M414.10 385.06H425.10M419.60 385.06V383.87M416.60 383.87H422.60" stroke="#111" stroke-width="0.9"/>
<rect x="440.55" y="379.97" width="20.6" height="20.23" fill="#72a2e6" stroke="#111" stroke-width="0.8"/>
<text x="450.85" y="406.10" font-size="5.4" font-weight="bold" text-anchor="middle" class="s">10 mg kg<tspan font-size="3.6" dy="-2">-1</tspan></text>
<circle cx="441.85" cy="372.47" r="1.6" fill="#fff" stroke="#111" stroke-width="0.7"/>
<circle cx="447.85" cy="373.17" r="1.6" fill="#fff" stroke="#111" stroke-width="0.7"/>
<circle cx="453.85" cy="374.31" r="1.6" fill="#fff" stroke="#111" stroke-width="0.7"/>
<circle cx="459.85" cy="374.45" r="1.6" fill="#fff" stroke="#111" stroke-width="0.7"/>
<circle cx="444.85" cy="376.99" r="1.6" fill="#fff" stroke="#111" stroke-width="0.7"/>
<circle cx="450.85" cy="377.56" r="1.6" fill="#fff" stroke="#111" stroke-width="0.7"/>
<circle cx="456.85" cy="378.27" r="1.6" fill="#fff" stroke="#111" stroke-width="0.7"/>
<circle cx="441.35" cy="382.94" r="1.6" fill="#fff" stroke="#111" stroke-width="0.7"/>
<circle cx="446.10" cy="383.36" r="1.6" fill="#fff" stroke="#111" stroke-width="0.7"/>
<circle cx="450.85" cy="383.36" r="1.6" fill="#fff" stroke="#111" stroke-width="0.7"/>
<circle cx="455.60" cy="384.63" r="1.6" fill="#fff" stroke="#111" stroke-width="0.7"/>
<circle cx="460.35" cy="385.34" r="1.6" fill="#fff" stroke="#111" stroke-width="0.7"/>
<circle cx="447.85" cy="386.33" r="1.6" fill="#fff" stroke="#111" stroke-width="0.7"/>
<circle cx="453.85" cy="389.02" r="1.6" fill="#fff" stroke="#111" stroke-width="0.7"/>
<path d="M445.35 379.97H456.35M450.85 379.97V378.51M447.85 378.51H453.85" stroke="#111" stroke-width="0.9"/>
<text class="h" x="448.60" y="359.00" font-size="9.6" font-weight="normal" textLength="4.50" lengthAdjust="spacingAndGlyphs">#</text>
<text x="450.85" y="368.90" font-size="9.5" font-weight="bold" text-anchor="middle" >**</text>
<rect x="471.80" y="374.87" width="20.6" height="25.33" fill="#0f336a" stroke="#111" stroke-width="0.8"/>
<text x="482.10" y="406.10" font-size="5.4" font-weight="bold" text-anchor="middle" class="s">25 mg kg<tspan font-size="3.6" dy="-2">-1</tspan></text>
<circle cx="482.10" cy="366.24" r="1.6" fill="#fff" stroke="#111" stroke-width="0.7"/>
<circle cx="473.10" cy="369.35" r="1.6" fill="#fff" stroke="#111" stroke-width="0.7"/>
<circle cx="479.10" cy="369.35" r="1.6" fill="#fff" stroke="#111" stroke-width="0.7"/>
<circle cx="485.10" cy="370.49" r="1.6" fill="#fff" stroke="#111" stroke-width="0.7"/>
<circle cx="491.10" cy="371.19" r="1.6" fill="#fff" stroke="#111" stroke-width="0.7"/>
<circle cx="473.10" cy="372.47" r="1.6" fill="#fff" stroke="#111" stroke-width="0.7"/>
<circle cx="479.10" cy="373.46" r="1.6" fill="#fff" stroke="#111" stroke-width="0.7"/>
<circle cx="485.10" cy="373.88" r="1.6" fill="#fff" stroke="#111" stroke-width="0.7"/>
<circle cx="491.10" cy="374.73" r="1.6" fill="#fff" stroke="#111" stroke-width="0.7"/>
<circle cx="476.10" cy="377.84" r="1.6" fill="#fff" stroke="#111" stroke-width="0.7"/>
<circle cx="482.10" cy="378.55" r="1.6" fill="#fff" stroke="#111" stroke-width="0.7"/>
<circle cx="488.10" cy="379.54" r="1.6" fill="#fff" stroke="#111" stroke-width="0.7"/>
<circle cx="479.10" cy="380.96" r="1.6" fill="#fff" stroke="#111" stroke-width="0.7"/>
<circle cx="485.10" cy="381.95" r="1.6" fill="#fff" stroke="#111" stroke-width="0.7"/>
<path d="M476.60 374.87H487.60M482.10 374.87V373.58M479.10 373.58H485.10" stroke="#111" stroke-width="0.9"/>
<text class="h" x="477.60" y="340.00" font-size="9.4" font-weight="normal" textLength="9.00" lengthAdjust="spacingAndGlyphs">$$</text>
<text class="h" x="475.35" y="350.10" font-size="9.6" font-weight="normal" textLength="13.50" lengthAdjust="spacingAndGlyphs">###</text>
<text x="482.10" y="360.40" font-size="9.5" font-weight="bold" text-anchor="middle" >***</text>
<path d="M382.50 300.20V337.60H438.50" fill="none" stroke="#333" stroke-width="0.55"/>
<path d="M381.30 337.60H382.50M381.30 328.25H382.50M381.30 318.90H382.50M381.30 309.55H382.50M381.30 300.20H382.50M382.70 337.60V338.60M387.15 337.60V338.60M391.60 337.60V338.60M396.05 337.60V338.60M400.50 337.60V338.60M404.95 337.60V338.60M409.40 337.60V338.60M413.85 337.60V338.60M418.30 337.60V338.60M422.75 337.60V338.60M427.20 337.60V338.60M431.65 337.60V338.60M436.10 337.60V338.60" stroke="#333" stroke-width="0.4"/>
<g class="it">
<text x="381.00" y="338.60" font-size="2.9" text-anchor="end">0</text>
<text x="381.00" y="329.25" font-size="2.9" text-anchor="end">1000</text>
<text x="381.00" y="319.90" font-size="2.9" text-anchor="end">2000</text>
<text x="381.00" y="310.55" font-size="2.9" text-anchor="end">3000</text>
<text x="381.00" y="301.20" font-size="2.9" text-anchor="end">4000</text>
<text x="382.70" y="342.20" font-size="2.7" text-anchor="middle">0</text>
<text x="387.15" y="342.20" font-size="2.7" text-anchor="middle">5</text>
<text x="391.60" y="342.20" font-size="2.7" text-anchor="middle">10</text>
<text x="396.05" y="342.20" font-size="2.7" text-anchor="middle">15</text>
<text x="400.50" y="342.20" font-size="2.7" text-anchor="middle">20</text>
<text x="404.95" y="342.20" font-size="2.7" text-anchor="middle">25</text>
<text x="409.40" y="342.20" font-size="2.7" text-anchor="middle">30</text>
<text x="413.85" y="342.20" font-size="2.7" text-anchor="middle">35</text>
<text x="418.30" y="342.20" font-size="2.7" text-anchor="middle">40</text>
<text x="422.75" y="342.20" font-size="2.7" text-anchor="middle">45</text>
<text x="427.20" y="342.20" font-size="2.7" text-anchor="middle">50</text>
<text x="431.65" y="342.20" font-size="2.7" text-anchor="middle">55</text>
<text x="436.10" y="342.20" font-size="2.7" text-anchor="middle">60</text>
<text x="411.30" y="346.80" font-size="3" text-anchor="middle">Time (min)</text>
<text x="368.30" y="318.90" font-size="3" text-anchor="middle" transform="rotate(-90 368.30 318.90)" dy="1">Distance (cm)</text>
</g>
<path d="M384.60 304.50H438.50" stroke="#888" stroke-width="0.5"/>
<path d="M384.60 307.50H405.00" stroke="#888" stroke-width="0.5"/>
<path d="M409.40 307.50H415.90" stroke="#888" stroke-width="0.5"/>
<path d="M419.50 307.50H427.50" stroke="#888" stroke-width="0.5"/>
<text x="410.00" y="303.80" font-size="3.2" font-weight="normal" text-anchor="middle" fill="#555">$</text>
<text x="395.50" y="306.80" font-size="3.2" font-weight="normal" text-anchor="middle" fill="#555">#</text>
<text x="412.50" y="306.80" font-size="3.2" font-weight="normal" text-anchor="middle" fill="#555">#</text>
<text x="423.60" y="306.80" font-size="3.2" font-weight="normal" text-anchor="middle" fill="#555">#</text>
<path d="M387.15 314.92V318.10M386.55 314.92H387.75M386.55 318.10H387.75M391.60 315.35V318.53M391.00 315.35H392.20M391.00 318.53H392.20M396.05 318.98V322.16M395.45 318.98H396.65M395.45 322.16H396.65M400.50 320.73V323.91M399.90 320.73H401.10M399.90 323.91H401.10M404.95 321.61V324.79M404.35 321.61H405.55M404.35 324.79H405.55M409.40 322.19V325.37M408.80 322.19H410.00M408.80 325.37H410.00M413.85 322.62V325.80M413.25 322.62H414.45M413.25 325.80H414.45M418.30 323.64V326.82M417.70 323.64H418.90M417.70 326.82H418.90M422.75 324.81V327.99M422.15 324.81H423.35M422.15 327.99H423.35M427.20 324.08V327.26M426.60 324.08H427.80M426.60 327.26H427.80M431.65 324.08V327.26M431.05 324.08H432.25M431.05 327.26H432.25M436.10 324.52V327.70M435.50 324.52H436.70M435.50 327.70H436.70" stroke="#666" stroke-width="0.3" fill="none"/>
<path d="M387.15 319.26V321.88M386.65 319.26H387.65M386.65 321.88H387.65M391.60 321.89V324.51M391.10 321.89H392.10M391.10 324.51H392.10M396.05 323.92V326.54M395.55 323.92H396.55M395.55 326.54H396.55M400.50 324.36V326.98M400.00 324.36H401.00M400.00 326.98H401.00M404.95 325.82V328.44M404.45 325.82H405.45M404.45 328.44H405.45M409.40 325.82V328.44M408.90 325.82H409.90M408.90 328.44H409.90M413.85 326.25V328.87M413.35 326.25H414.35M413.35 328.87H414.35M418.30 326.54V329.16M417.80 326.54H418.80M417.80 329.16H418.80M422.75 326.84V329.46M422.25 326.84H423.25M422.25 329.46H423.25M427.20 326.84V329.46M426.70 326.84H427.70M426.70 329.46H427.70M431.65 326.84V329.46M431.15 326.84H432.15M431.15 329.46H432.15M436.10 326.84V329.46M435.60 326.84H436.60M435.60 329.46H436.60" stroke="#aaa" stroke-width="0.3" fill="none"/>
<polyline points="387.15,324.94 391.60,329.02 396.05,330.77 400.50,329.60 404.95,330.04 409.40,330.04 413.85,330.48 418.30,330.77 422.75,330.77 427.20,331.06 431.65,331.49 436.10,331.49" fill="none" stroke="#999" stroke-width="0.5"/>
<polyline points="387.15,320.57 391.60,323.20 396.05,325.23 400.50,325.67 404.95,327.13 409.40,327.13 413.85,327.56 418.30,327.85 422.75,328.15 427.20,328.15 431.65,328.15 436.10,328.15" fill="none" stroke="#aaa" stroke-width="0.6"/>
<polyline points="387.15,324.21 391.60,329.02 396.05,329.31 400.50,329.31 404.95,329.60 409.40,330.04 413.85,329.60 418.30,330.04 422.75,330.48 427.20,330.77 431.65,331.06 436.10,331.06" fill="none" stroke="#444" stroke-width="0.45" stroke-dasharray="0.8 0.8"/>
<polyline points="387.15,316.51 391.60,316.94 396.05,320.57 400.50,322.32 404.95,323.20 409.40,323.78 413.85,324.21 418.30,325.23 422.75,326.40 427.20,325.67 431.65,325.67 436.10,326.11" fill="none" stroke="#444" stroke-width="0.45" stroke-dasharray="0.8 0.8"/>
<circle cx="387.15" cy="324.94" r="0.7" fill="#fff" stroke="#777" stroke-width="0.35"/>
<circle cx="391.60" cy="329.02" r="0.7" fill="#fff" stroke="#777" stroke-width="0.35"/>
<circle cx="396.05" cy="330.77" r="0.7" fill="#fff" stroke="#777" stroke-width="0.35"/>
<circle cx="400.50" cy="329.60" r="0.7" fill="#fff" stroke="#777" stroke-width="0.35"/>
<circle cx="404.95" cy="330.04" r="0.7" fill="#fff" stroke="#777" stroke-width="0.35"/>
<circle cx="409.40" cy="330.04" r="0.7" fill="#fff" stroke="#777" stroke-width="0.35"/>
<circle cx="413.85" cy="330.48" r="0.7" fill="#fff" stroke="#777" stroke-width="0.35"/>
<circle cx="418.30" cy="330.77" r="0.7" fill="#fff" stroke="#777" stroke-width="0.35"/>
<circle cx="422.75" cy="330.77" r="0.7" fill="#fff" stroke="#777" stroke-width="0.35"/>
<circle cx="427.20" cy="331.06" r="0.7" fill="#fff" stroke="#777" stroke-width="0.35"/>
<circle cx="431.65" cy="331.49" r="0.7" fill="#fff" stroke="#777" stroke-width="0.35"/>
<circle cx="436.10" cy="331.49" r="0.7" fill="#fff" stroke="#777" stroke-width="0.35"/>
<rect x="386.55" y="319.97" width="1.2" height="1.2" fill="#fff" stroke="#aaa" stroke-width="0.3"/>
<rect x="391.00" y="322.60" width="1.2" height="1.2" fill="#fff" stroke="#aaa" stroke-width="0.3"/>
<rect x="395.45" y="324.63" width="1.2" height="1.2" fill="#fff" stroke="#aaa" stroke-width="0.3"/>
<rect x="399.90" y="325.07" width="1.2" height="1.2" fill="#fff" stroke="#aaa" stroke-width="0.3"/>
<rect x="404.35" y="326.53" width="1.2" height="1.2" fill="#fff" stroke="#aaa" stroke-width="0.3"/>
<rect x="408.80" y="326.53" width="1.2" height="1.2" fill="#fff" stroke="#aaa" stroke-width="0.3"/>
<rect x="413.25" y="326.96" width="1.2" height="1.2" fill="#fff" stroke="#aaa" stroke-width="0.3"/>
<rect x="417.70" y="327.25" width="1.2" height="1.2" fill="#fff" stroke="#aaa" stroke-width="0.3"/>
<rect x="422.15" y="327.55" width="1.2" height="1.2" fill="#fff" stroke="#aaa" stroke-width="0.3"/>
<rect x="426.60" y="327.55" width="1.2" height="1.2" fill="#fff" stroke="#aaa" stroke-width="0.3"/>
<rect x="431.05" y="327.55" width="1.2" height="1.2" fill="#fff" stroke="#aaa" stroke-width="0.3"/>
<rect x="435.50" y="327.55" width="1.2" height="1.2" fill="#fff" stroke="#aaa" stroke-width="0.3"/>
<circle cx="387.15" cy="324.21" r="0.85" fill="#111"/>
<circle cx="391.60" cy="329.02" r="0.85" fill="#111"/>
<circle cx="396.05" cy="329.31" r="0.85" fill="#111"/>
<circle cx="400.50" cy="329.31" r="0.85" fill="#111"/>
<circle cx="404.95" cy="329.60" r="0.85" fill="#111"/>
<circle cx="409.40" cy="330.04" r="0.85" fill="#111"/>
<circle cx="413.85" cy="329.60" r="0.85" fill="#111"/>
<circle cx="418.30" cy="330.04" r="0.85" fill="#111"/>
<circle cx="422.75" cy="330.48" r="0.85" fill="#111"/>
<circle cx="427.20" cy="330.77" r="0.85" fill="#111"/>
<circle cx="431.65" cy="331.06" r="0.85" fill="#111"/>
<circle cx="436.10" cy="331.06" r="0.85" fill="#111"/>
<path d="M386.25 315.81H388.05L387.15 317.41Z" fill="#222"/>
<path d="M390.70 316.24H392.50L391.60 317.84Z" fill="#222"/>
<path d="M395.15 319.87H396.95L396.05 321.47Z" fill="#222"/>
<path d="M399.60 321.62H401.40L400.50 323.22Z" fill="#222"/>
<path d="M404.05 322.50H405.85L404.95 324.10Z" fill="#222"/>
<path d="M408.50 323.08H410.30L409.40 324.68Z" fill="#222"/>
<path d="M412.95 323.51H414.75L413.85 325.11Z" fill="#222"/>
<path d="M417.40 324.53H419.20L418.30 326.13Z" fill="#222"/>
<path d="M421.85 325.70H423.65L422.75 327.30Z" fill="#222"/>
<path d="M426.30 324.97H428.10L427.20 326.57Z" fill="#222"/>
<path d="M430.75 324.97H432.55L431.65 326.57Z" fill="#222"/>
<path d="M435.20 325.41H437.00L436.10 327.01Z" fill="#222"/>
<g class="lg">
<path d="M249.5 418.5H256.5" stroke="#888" stroke-width="0.6"/><circle cx="253" cy="418.5" r="1" fill="#fff" stroke="#555" stroke-width="0.5"/>
<text x="259.60" y="420.00" font-size="4.1" font-weight="bold" text-anchor="start" >Saline</text>
<circle cx="279.2" cy="418.5" r="1.1" fill="#111"/>
<text x="284.40" y="420.00" font-size="4.1" font-weight="bold" text-anchor="start" >2.5 mg/kg</text>
<path d="M309.5 418.5H313.8" stroke="#aaa" stroke-width="0.8"/>
<text x="317.20" y="420.00" font-size="4.1" font-weight="bold" text-anchor="start" >10 mg/kg</text>
<path d="M340.5 418.3H344" stroke="#555" stroke-width="0.5"/><path d="M341.2 417.4L343.3 417.4L342.25 419.2Z" fill="#111"/>
<text x="348.00" y="420.00" font-size="4.1" font-weight="bold" text-anchor="start" >25 mg/kg</text>
</g>
</svg>
</body></html>
